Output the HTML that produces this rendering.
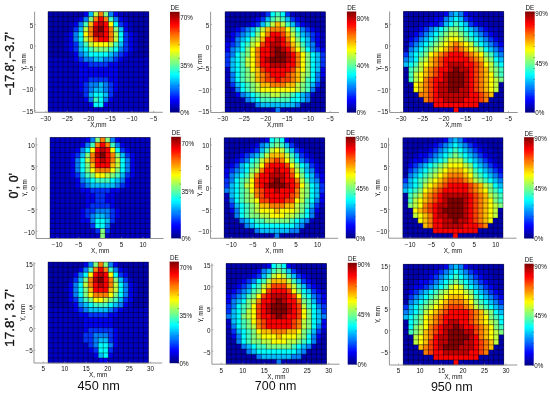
<!DOCTYPE html>
<html><head><meta charset="utf-8"><style>
html,body{margin:0;padding:0;background:#fff;}
svg{display:block;}
</style></head><body>
<svg width="550" height="395" viewBox="0 0 550 395" font-family="Liberation Sans, Arial, sans-serif" fill="#111">
<defs><linearGradient id="jet" x1="0" y1="0" x2="0" y2="1"><stop offset="0" stop-color="#800000"/><stop offset="0.02" stop-color="#8f0000"/><stop offset="0.03" stop-color="#9f0000"/><stop offset="0.05" stop-color="#af0000"/><stop offset="0.06" stop-color="#bf0000"/><stop offset="0.08" stop-color="#cf0000"/><stop offset="0.09" stop-color="#df0000"/><stop offset="0.11" stop-color="#ef0000"/><stop offset="0.12" stop-color="#ff0000"/><stop offset="0.14" stop-color="#ff1000"/><stop offset="0.16" stop-color="#ff2000"/><stop offset="0.17" stop-color="#ff3000"/><stop offset="0.19" stop-color="#ff4000"/><stop offset="0.2" stop-color="#ff5000"/><stop offset="0.22" stop-color="#ff6000"/><stop offset="0.23" stop-color="#ff7000"/><stop offset="0.25" stop-color="#ff8000"/><stop offset="0.27" stop-color="#ff8f00"/><stop offset="0.28" stop-color="#ff9f00"/><stop offset="0.3" stop-color="#ffaf00"/><stop offset="0.31" stop-color="#ffbf00"/><stop offset="0.33" stop-color="#ffcf00"/><stop offset="0.34" stop-color="#ffdf00"/><stop offset="0.36" stop-color="#ffef00"/><stop offset="0.38" stop-color="#ffff00"/><stop offset="0.39" stop-color="#efff10"/><stop offset="0.41" stop-color="#dfff20"/><stop offset="0.42" stop-color="#cfff30"/><stop offset="0.44" stop-color="#bfff40"/><stop offset="0.45" stop-color="#afff50"/><stop offset="0.47" stop-color="#9fff60"/><stop offset="0.48" stop-color="#8fff70"/><stop offset="0.5" stop-color="#80ff80"/><stop offset="0.52" stop-color="#70ff8f"/><stop offset="0.53" stop-color="#60ff9f"/><stop offset="0.55" stop-color="#50ffaf"/><stop offset="0.56" stop-color="#40ffbf"/><stop offset="0.58" stop-color="#30ffcf"/><stop offset="0.59" stop-color="#20ffdf"/><stop offset="0.61" stop-color="#10ffef"/><stop offset="0.62" stop-color="#00ffff"/><stop offset="0.64" stop-color="#00efff"/><stop offset="0.66" stop-color="#00dfff"/><stop offset="0.67" stop-color="#00cfff"/><stop offset="0.69" stop-color="#00bfff"/><stop offset="0.7" stop-color="#00afff"/><stop offset="0.72" stop-color="#009fff"/><stop offset="0.73" stop-color="#008fff"/><stop offset="0.75" stop-color="#0080ff"/><stop offset="0.77" stop-color="#0070ff"/><stop offset="0.78" stop-color="#0060ff"/><stop offset="0.8" stop-color="#0050ff"/><stop offset="0.81" stop-color="#0040ff"/><stop offset="0.83" stop-color="#0030ff"/><stop offset="0.84" stop-color="#0020ff"/><stop offset="0.86" stop-color="#0010ff"/><stop offset="0.88" stop-color="#0000ff"/><stop offset="0.89" stop-color="#0000ef"/><stop offset="0.91" stop-color="#0000df"/><stop offset="0.92" stop-color="#0000cf"/><stop offset="0.94" stop-color="#0000bf"/><stop offset="0.95" stop-color="#0000af"/><stop offset="0.97" stop-color="#00009f"/><stop offset="0.98" stop-color="#00008f"/><stop offset="1" stop-color="#000080"/></linearGradient></defs>
<g><rect x="48" y="11.7" width="100.8" height="100.6" fill="#00006a"/>
<path fill="#0000ad" d="M48 11.7H83.28V16.73H48zM123.6 11.7H148.8V16.73H123.6zM48 16.73H73.2V21.76H48zM128.64 16.73H148.8V21.76H128.64zM48 21.76H68.16V26.79H48zM133.68 21.76H148.8V26.79H133.68zM48 26.79H68.16V31.82H48zM133.68 26.79H148.8V31.82H133.68zM48 31.82H63.12V36.85H48zM138.72 31.82H148.8V36.85H138.72zM48 36.85H63.12V41.88H48zM138.72 36.85H148.8V41.88H138.72zM48 41.88H63.12V46.91H48zM138.72 41.88H148.8V46.91H138.72zM48 46.91H63.12V51.94H48zM138.72 46.91H148.8V51.94H138.72zM48 51.94H68.16V56.97H48zM133.68 51.94H148.8V56.97H133.68z"/>
<path fill="#0000f0" d="M83.28 11.7H88.32V16.73H83.28zM113.52 11.7H118.56V16.73H113.52zM78.24 16.73H83.28V21.76H78.24zM118.56 16.73H123.6V21.76H118.56zM73.2 21.76H78.24V26.79H73.2zM123.6 21.76H128.64V26.79H123.6zM123.6 26.79H128.64V31.82H123.6zM68.16 31.82H73.2V36.85H68.16zM128.64 31.82H133.68V36.85H128.64zM68.16 36.85H73.2V41.88H68.16zM128.64 36.85H133.68V41.88H128.64zM68.16 41.88H73.2V46.91H68.16zM128.64 41.88H133.68V46.91H128.64zM68.16 46.91H73.2V51.94H68.16zM128.64 46.91H133.68V51.94H128.64zM73.2 51.94H78.24V56.97H73.2zM123.6 51.94H128.64V56.97H123.6zM73.2 56.97H78.24V62H73.2zM118.56 56.97H123.6V62H118.56zM78.24 62H88.32V67.03H78.24zM108.48 62H118.56V67.03H108.48zM78.24 67.03H118.56V72.06H78.24zM78.24 72.06H118.56V77.09H78.24zM78.24 77.09H88.32V82.12H78.24zM108.48 77.09H118.56V82.12H108.48zM78.24 82.12H83.28V87.15H78.24zM113.52 82.12H118.56V87.15H113.52zM78.24 87.15H83.28V92.18H78.24zM113.52 87.15H118.56V92.18H113.52zM83.28 97.21H88.32V102.24H83.28zM108.48 97.21H113.52V102.24H108.48zM88.32 102.24H93.36V107.27H88.32zM103.44 102.24H108.48V107.27H103.44z"/>
<path fill="#00bfff" d="M88.32 11.7H93.36V16.73H88.32zM78.24 26.79H83.28V31.82H78.24zM118.56 26.79H123.6V31.82H118.56zM78.24 41.88H83.28V46.91H78.24zM118.56 41.88H123.6V46.91H118.56zM78.24 46.91H83.28V51.94H78.24zM83.28 51.94H88.32V56.97H83.28zM108.48 51.94H113.52V56.97H108.48zM93.36 56.97H103.44V62H93.36zM98.4 82.12H103.44V87.15H98.4zM93.36 87.15H103.44V92.18H93.36zM88.32 92.18H93.36V97.21H88.32zM103.44 92.18H108.48V97.21H103.44z"/>
<path fill="#bfff40" d="M93.36 11.7H98.4V16.73H93.36zM83.28 26.79H88.32V31.82H83.28zM113.52 31.82H118.56V36.85H113.52zM83.28 36.85H88.32V41.88H83.28zM113.52 36.85H118.56V41.88H113.52zM88.32 41.88H93.36V46.91H88.32zM108.48 41.88H113.52V46.91H108.48z"/>
<path fill="#ff8000" d="M98.4 11.7H103.44V16.73H98.4zM93.36 16.73H98.4V21.76H93.36zM103.44 16.73H108.48V21.76H103.44zM88.32 26.79H93.36V31.82H88.32zM108.48 26.79H113.52V31.82H108.48zM88.32 31.82H93.36V36.85H88.32zM108.48 31.82H113.52V36.85H108.48zM108.48 36.85H113.52V41.88H108.48z"/>
<path fill="#80ff80" d="M103.44 11.7H108.48V16.73H103.44zM88.32 16.73H93.36V21.76H88.32zM113.52 26.79H118.56V31.82H113.52zM93.36 46.91H108.48V51.94H93.36z"/>
<path fill="#0080ff" d="M108.48 11.7H113.52V16.73H108.48zM83.28 16.73H88.32V21.76H83.28zM113.52 16.73H118.56V21.76H113.52zM78.24 21.76H83.28V26.79H78.24zM73.2 31.82H78.24V36.85H73.2zM73.2 36.85H78.24V41.88H73.2zM118.56 46.91H123.6V51.94H118.56zM78.24 51.94H83.28V56.97H78.24zM113.52 51.94H118.56V56.97H113.52zM83.28 56.97H93.36V62H83.28zM103.44 56.97H113.52V62H103.44zM88.32 82.12H98.4V87.15H88.32zM103.44 82.12H108.48V87.15H103.44zM88.32 87.15H93.36V92.18H88.32zM103.44 87.15H108.48V92.18H103.44zM88.32 97.21H93.36V102.24H88.32zM103.44 97.21H108.48V102.24H103.44z"/>
<path fill="#0000c4" d="M118.56 11.7H123.6V16.73H118.56zM73.2 16.73H78.24V21.76H73.2zM123.6 16.73H128.64V21.76H123.6zM68.16 21.76H73.2V26.79H68.16zM128.64 21.76H133.68V26.79H128.64zM68.16 26.79H73.2V31.82H68.16zM128.64 26.79H133.68V31.82H128.64zM63.12 31.82H68.16V36.85H63.12zM133.68 31.82H138.72V36.85H133.68zM63.12 36.85H68.16V41.88H63.12zM133.68 36.85H138.72V41.88H133.68zM63.12 41.88H68.16V46.91H63.12zM133.68 41.88H138.72V46.91H133.68zM63.12 46.91H68.16V51.94H63.12zM133.68 46.91H138.72V51.94H133.68zM68.16 51.94H73.2V56.97H68.16zM128.64 51.94H133.68V56.97H128.64zM48 56.97H73.2V62H48zM123.6 56.97H148.8V62H123.6zM48 62H78.24V67.03H48zM118.56 62H148.8V67.03H118.56zM48 67.03H78.24V72.06H48zM118.56 67.03H148.8V72.06H118.56zM48 72.06H78.24V77.09H48zM118.56 72.06H148.8V77.09H118.56zM48 77.09H78.24V82.12H48zM118.56 77.09H148.8V82.12H118.56zM48 82.12H78.24V87.15H48zM118.56 82.12H148.8V87.15H118.56zM48 87.15H78.24V92.18H48zM118.56 87.15H148.8V92.18H118.56zM48 92.18H83.28V97.21H48zM113.52 92.18H148.8V97.21H113.52zM48 97.21H83.28V102.24H48zM113.52 97.21H148.8V102.24H113.52zM48 102.24H88.32V107.27H48zM108.48 102.24H148.8V107.27H108.48zM48 107.27H148.8V112.3H48z"/>
<path fill="#ff0000" d="M98.4 16.73H103.44V21.76H98.4zM93.36 21.76H98.4V26.79H93.36zM103.44 21.76H108.48V26.79H103.44zM103.44 26.79H108.48V31.82H103.44zM103.44 31.82H108.48V36.85H103.44zM98.4 36.85H108.48V41.88H98.4z"/>
<path fill="#40ffbf" d="M108.48 16.73H113.52V21.76H108.48zM83.28 21.76H88.32V26.79H83.28zM83.28 41.88H88.32V46.91H83.28zM113.52 41.88H118.56V46.91H113.52zM88.32 46.91H93.36V51.94H88.32zM108.48 46.91H113.52V51.94H108.48zM93.36 97.21H98.4V102.24H93.36z"/>
<path fill="#ffbf00" d="M88.32 21.76H93.36V26.79H88.32zM88.32 36.85H93.36V41.88H88.32z"/>
<path fill="#bf0000" d="M98.4 21.76H103.44V26.79H98.4zM93.36 26.79H98.4V31.82H93.36zM93.36 31.82H103.44V36.85H93.36z"/>
<path fill="#ffff00" d="M108.48 21.76H113.52V26.79H108.48zM83.28 31.82H88.32V36.85H83.28zM93.36 41.88H108.48V46.91H93.36z"/>
<path fill="#00ffff" d="M113.52 21.76H118.56V26.79H113.52zM78.24 31.82H83.28V36.85H78.24zM118.56 31.82H123.6V36.85H118.56zM78.24 36.85H83.28V41.88H78.24zM118.56 36.85H123.6V41.88H118.56zM83.28 46.91H88.32V51.94H83.28zM113.52 46.91H118.56V51.94H113.52zM88.32 51.94H108.48V56.97H88.32zM93.36 92.18H103.44V97.21H93.36zM98.4 97.21H103.44V102.24H98.4zM93.36 102.24H103.44V107.27H93.36z"/>
<path fill="#0033ff" d="M118.56 21.76H123.6V26.79H118.56zM73.2 26.79H78.24V31.82H73.2zM123.6 31.82H128.64V36.85H123.6zM123.6 36.85H128.64V41.88H123.6zM73.2 41.88H78.24V46.91H73.2zM123.6 41.88H128.64V46.91H123.6zM73.2 46.91H78.24V51.94H73.2zM123.6 46.91H128.64V51.94H123.6zM118.56 51.94H123.6V56.97H118.56zM78.24 56.97H83.28V62H78.24zM113.52 56.97H118.56V62H113.52zM88.32 62H108.48V67.03H88.32zM88.32 77.09H108.48V82.12H88.32zM83.28 82.12H88.32V87.15H83.28zM108.48 82.12H113.52V87.15H108.48zM83.28 87.15H88.32V92.18H83.28zM108.48 87.15H113.52V92.18H108.48zM83.28 92.18H88.32V97.21H83.28zM108.48 92.18H113.52V97.21H108.48z"/>
<path fill="#800000" d="M98.4 26.79H103.44V31.82H98.4z"/>
<path fill="#ff4000" d="M93.36 36.85H98.4V41.88H93.36z"/>
<path d="M48 11.7V112.3M53.04 11.7V112.3M58.08 11.7V112.3M63.12 11.7V112.3M68.16 11.7V112.3M73.2 11.7V112.3M78.24 11.7V112.3M83.28 11.7V112.3M88.32 11.7V112.3M93.36 11.7V112.3M98.4 11.7V112.3M103.44 11.7V112.3M108.48 11.7V112.3M113.52 11.7V112.3M118.56 11.7V112.3M123.6 11.7V112.3M128.64 11.7V112.3M133.68 11.7V112.3M138.72 11.7V112.3M143.76 11.7V112.3M148.8 11.7V112.3M48 11.7H148.8M48 16.73H148.8M48 21.76H148.8M48 26.79H148.8M48 31.82H148.8M48 36.85H148.8M48 41.88H148.8M48 46.91H148.8M48 51.94H148.8M48 56.97H148.8M48 62H148.8M48 67.03H148.8M48 72.06H148.8M48 77.09H148.8M48 82.12H148.8M48 87.15H148.8M48 92.18H148.8M48 97.21H148.8M48 102.24H148.8M48 107.27H148.8M48 112.3H148.8" stroke="#000" stroke-opacity="0.42" stroke-width="0.95" fill="none"/></g>
<path d="M34.6 11.7V112.3H162.8" stroke="#8a8a8a" stroke-width="0.9" fill="none"/>
<text x="45.76" y="120.7" text-anchor="middle" font-size="6.3">−30</text>
<text x="67.33" y="120.7" text-anchor="middle" font-size="6.3">−25</text>
<text x="88.91" y="120.7" text-anchor="middle" font-size="6.3">−20</text>
<text x="110.48" y="120.7" text-anchor="middle" font-size="6.3">−15</text>
<text x="132.06" y="120.7" text-anchor="middle" font-size="6.3">−10</text>
<text x="153.63" y="120.7" text-anchor="middle" font-size="6.3">−5</text>
<text x="33.3" y="27.83" text-anchor="end" font-size="6.3">5</text>
<text x="33.3" y="49.37" text-anchor="end" font-size="6.3">0</text>
<text x="33.3" y="70.9" text-anchor="end" font-size="6.3">−5</text>
<text x="33.3" y="92.43" text-anchor="end" font-size="6.3">−10</text>
<text x="33.3" y="113.96" text-anchor="end" font-size="6.3">−15</text>
<path d="M45.76 112.3v-1.5M67.33 112.3v-1.5M88.91 112.3v-1.5M110.48 112.3v-1.5M132.06 112.3v-1.5M153.63 112.3v-1.5M34.6 24.53h1.5M34.6 46.07h1.5M34.6 67.6h1.5M34.6 89.13h1.5M34.6 110.66h1.5" stroke="#8a8a8a" stroke-width="0.6" fill="none"/>
<text x="98.4" y="126.6" text-anchor="middle" font-size="6.3">X,mm</text>
<text transform="translate(25.6 62) rotate(-90)" text-anchor="middle" font-size="6.3">Y, mm</text>
<rect x="170" y="11.8" width="9.6" height="100.7" fill="url(#jet)"/>
<text x="174.8" y="10.2" text-anchor="middle" font-size="6.3">DE</text>
<text x="180.2" y="20.2" font-size="6.3">70%</text>
<text x="180.2" y="67.7" font-size="6.3">35%</text>
<text x="180.2" y="115.2" font-size="6.3">0%</text>
<path d="M179.6 112.5h-1.2M179.6 98.93h-1.2M179.6 85.36h-1.2M179.6 71.79h-1.2M179.6 58.21h-1.2M179.6 44.64h-1.2M179.6 31.07h-1.2M179.6 17.5h-1.2" stroke="#333" stroke-width="0.5" fill="none"/>
<g><rect x="225.1" y="11.8" width="100.3" height="100.7" fill="#00006a"/>
<path fill="#0000ad" d="M225.1 11.8H260.2V16.84H225.1zM295.31 11.8H325.4V16.84H295.31zM225.1 16.84H250.17V21.87H225.1zM305.34 16.84H325.4V21.87H305.34zM225.1 21.87H245.16V26.91H225.1zM310.35 21.87H325.4V26.91H310.35zM225.1 26.91H230.11V31.94H225.1zM320.38 26.91H325.4V31.94H320.38zM225.1 31.94H230.11V36.98H225.1zM225.1 82.29H230.11V87.33H225.1zM320.38 82.29H325.4V87.33H320.38zM225.1 87.33H230.11V92.36H225.1zM320.38 87.33H325.4V92.36H320.38zM225.1 92.36H235.13V97.39H225.1zM315.37 92.36H325.4V97.39H315.37zM225.1 97.39H245.16V102.43H225.1zM310.35 97.39H325.4V102.43H310.35zM225.1 102.43H255.19V107.47H225.1zM300.32 102.43H325.4V107.47H300.32zM225.1 107.47H275.25V112.5H225.1zM280.26 107.47H325.4V112.5H280.26z"/>
<path fill="#0000c4" d="M260.2 11.8H265.22V16.84H260.2zM290.29 11.8H295.31V16.84H290.29zM250.17 16.84H255.19V21.87H250.17zM300.32 16.84H305.34V21.87H300.32zM245.16 21.87H250.17V26.91H245.16zM305.34 21.87H310.35V26.91H305.34zM230.11 26.91H235.13V31.94H230.11zM315.37 26.91H320.38V31.94H315.37zM320.38 31.94H325.4V36.98H320.38zM225.1 36.98H230.11V42.01H225.1zM320.38 36.98H325.4V42.01H320.38zM320.38 42.01H325.4V47.05H320.38zM225.1 67.19H230.11V72.22H225.1zM225.1 72.22H230.11V77.25H225.1zM225.1 77.25H230.11V82.29H225.1zM320.38 77.25H325.4V82.29H320.38zM230.11 87.33H235.13V92.36H230.11zM315.37 87.33H320.38V92.36H315.37zM310.35 92.36H315.37V97.39H310.35z"/>
<path fill="#0033ff" d="M265.22 11.8H270.24V16.84H265.22zM285.28 11.8H290.29V16.84H285.28zM260.2 16.84H265.22V21.87H260.2zM290.29 16.84H295.31V21.87H290.29zM255.19 21.87H260.2V26.91H255.19zM295.31 21.87H300.32V26.91H295.31zM240.14 26.91H245.16V31.94H240.14zM305.34 26.91H310.35V31.94H305.34zM235.13 31.94H240.14V36.98H235.13zM310.35 31.94H315.37V36.98H310.35zM310.35 36.98H315.37V42.01H310.35zM230.11 42.01H235.13V47.05H230.11zM315.37 47.05H320.38V52.08H315.37zM225.1 52.08H230.11V57.11H225.1zM320.38 52.08H325.4V57.11H320.38zM225.1 57.11H230.11V62.15H225.1zM320.38 57.11H325.4V62.15H320.38zM225.1 62.15H230.11V67.19H225.1zM320.38 62.15H325.4V67.19H320.38zM230.11 82.29H235.13V87.33H230.11zM315.37 82.29H320.38V87.33H315.37z"/>
<path fill="#00ffff" d="M270.24 11.8H275.25V16.84H270.24zM280.26 11.8H285.28V16.84H280.26zM295.31 26.91H300.32V31.94H295.31zM250.17 31.94H255.19V36.98H250.17zM245.16 36.98H250.17V42.01H245.16zM300.32 36.98H305.34V42.01H300.32zM240.14 42.01H245.16V47.05H240.14zM240.14 47.05H245.16V52.08H240.14zM305.34 47.05H310.35V52.08H305.34zM235.13 52.08H240.14V57.11H235.13zM310.35 52.08H315.37V57.11H310.35zM235.13 57.11H240.14V62.15H235.13zM310.35 57.11H315.37V62.15H310.35zM235.13 62.15H240.14V67.19H235.13zM310.35 62.15H315.37V67.19H310.35zM235.13 67.19H240.14V72.22H235.13zM310.35 67.19H315.37V72.22H310.35zM235.13 72.22H240.14V77.25H235.13zM310.35 72.22H315.37V77.25H310.35zM235.13 77.25H240.14V82.29H235.13zM310.35 77.25H315.37V82.29H310.35zM240.14 82.29H245.16V87.33H240.14zM240.14 87.33H245.16V92.36H240.14zM250.17 92.36H255.19V97.39H250.17zM295.31 92.36H300.32V97.39H295.31zM255.19 97.39H260.2V102.43H255.19zM290.29 97.39H300.32V102.43H290.29z"/>
<path fill="#40ffbf" d="M275.25 11.8H280.26V16.84H275.25zM270.24 16.84H275.25V21.87H270.24zM280.26 16.84H285.28V21.87H280.26zM265.22 21.87H270.24V26.91H265.22zM285.28 21.87H290.29V26.91H285.28zM255.19 26.91H260.2V31.94H255.19zM295.31 31.94H300.32V36.98H295.31zM245.16 42.01H250.17V47.05H245.16zM300.32 42.01H305.34V47.05H300.32zM240.14 52.08H245.16V57.11H240.14zM240.14 57.11H245.16V62.15H240.14zM240.14 62.15H245.16V67.19H240.14zM240.14 67.19H245.16V72.22H240.14zM240.14 72.22H245.16V77.25H240.14zM240.14 77.25H245.16V82.29H240.14zM305.34 77.25H310.35V82.29H305.34zM245.16 82.29H250.17V87.33H245.16zM305.34 82.29H310.35V87.33H305.34zM245.16 87.33H250.17V92.36H245.16zM305.34 87.33H310.35V92.36H305.34zM255.19 92.36H260.2V97.39H255.19zM290.29 92.36H295.31V97.39H290.29zM260.2 97.39H290.29V102.43H260.2z"/>
<path fill="#0000f0" d="M255.19 16.84H260.2V21.87H255.19zM295.31 16.84H300.32V21.87H295.31zM250.17 21.87H255.19V26.91H250.17zM300.32 21.87H305.34V26.91H300.32zM235.13 26.91H240.14V31.94H235.13zM310.35 26.91H315.37V31.94H310.35zM230.11 31.94H235.13V36.98H230.11zM315.37 31.94H320.38V36.98H315.37zM230.11 36.98H235.13V42.01H230.11zM315.37 36.98H320.38V42.01H315.37zM225.1 42.01H230.11V47.05H225.1zM315.37 42.01H320.38V47.05H315.37zM225.1 47.05H230.11V52.08H225.1zM320.38 47.05H325.4V52.08H320.38zM320.38 67.19H325.4V72.22H320.38zM320.38 72.22H325.4V77.25H320.38zM235.13 92.36H240.14V97.39H235.13z"/>
<path fill="#00bfff" d="M265.22 16.84H270.24V21.87H265.22zM285.28 16.84H290.29V21.87H285.28zM260.2 21.87H265.22V26.91H260.2zM290.29 21.87H295.31V26.91H290.29zM250.17 26.91H255.19V31.94H250.17zM245.16 31.94H250.17V36.98H245.16zM300.32 31.94H305.34V36.98H300.32zM240.14 36.98H245.16V42.01H240.14zM305.34 36.98H310.35V42.01H305.34zM305.34 42.01H310.35V47.05H305.34zM235.13 47.05H240.14V52.08H235.13zM315.37 52.08H320.38V57.11H315.37zM230.11 57.11H235.13V62.15H230.11zM315.37 57.11H320.38V62.15H315.37zM230.11 62.15H235.13V67.19H230.11zM315.37 62.15H320.38V67.19H315.37zM230.11 67.19H235.13V72.22H230.11zM315.37 67.19H320.38V72.22H315.37zM235.13 82.29H240.14V87.33H235.13zM310.35 82.29H315.37V87.33H310.35zM245.16 92.36H250.17V97.39H245.16zM300.32 92.36H305.34V97.39H300.32zM250.17 97.39H255.19V102.43H250.17zM300.32 97.39H305.34V102.43H300.32zM260.2 102.43H295.31V107.47H260.2z"/>
<path fill="#80ff80" d="M275.25 16.84H280.26V21.87H275.25zM290.29 26.91H295.31V31.94H290.29zM255.19 31.94H260.2V36.98H255.19zM250.17 36.98H255.19V42.01H250.17zM295.31 36.98H300.32V42.01H295.31zM245.16 47.05H250.17V52.08H245.16zM300.32 47.05H305.34V52.08H300.32zM245.16 52.08H250.17V57.11H245.16zM305.34 52.08H310.35V57.11H305.34zM305.34 57.11H310.35V62.15H305.34zM305.34 62.15H310.35V67.19H305.34zM245.16 67.19H250.17V72.22H245.16zM305.34 67.19H310.35V72.22H305.34zM245.16 72.22H250.17V77.25H245.16zM305.34 72.22H310.35V77.25H305.34zM245.16 77.25H250.17V82.29H245.16zM250.17 82.29H255.19V87.33H250.17zM300.32 82.29H305.34V87.33H300.32zM250.17 87.33H255.19V92.36H250.17zM300.32 87.33H305.34V92.36H300.32zM260.2 92.36H270.24V97.39H260.2zM280.26 92.36H290.29V97.39H280.26z"/>
<path fill="#bfff40" d="M270.24 21.87H275.25V26.91H270.24zM280.26 21.87H285.28V26.91H280.26zM260.2 26.91H265.22V31.94H260.2zM290.29 31.94H295.31V36.98H290.29zM255.19 36.98H260.2V42.01H255.19zM250.17 42.01H255.19V47.05H250.17zM295.31 42.01H300.32V47.05H295.31zM245.16 57.11H250.17V62.15H245.16zM245.16 62.15H250.17V67.19H245.16zM250.17 72.22H255.19V77.25H250.17zM300.32 72.22H305.34V77.25H300.32zM250.17 77.25H255.19V82.29H250.17zM300.32 77.25H305.34V82.29H300.32zM255.19 82.29H260.2V87.33H255.19zM295.31 82.29H300.32V87.33H295.31zM255.19 87.33H260.2V92.36H255.19zM295.31 87.33H300.32V92.36H295.31zM270.24 92.36H280.26V97.39H270.24z"/>
<path fill="#ffbf00" d="M275.25 21.87H280.26V26.91H275.25zM265.22 26.91H270.24V31.94H265.22zM285.28 31.94H290.29V36.98H285.28zM260.2 36.98H265.22V42.01H260.2zM290.29 42.01H295.31V47.05H290.29zM255.19 67.19H260.2V72.22H255.19zM295.31 67.19H300.32V72.22H295.31zM255.19 72.22H260.2V77.25H255.19zM295.31 72.22H300.32V77.25H295.31zM255.19 77.25H260.2V82.29H255.19zM295.31 77.25H300.32V82.29H295.31zM260.2 82.29H270.24V87.33H260.2zM285.28 82.29H295.31V87.33H285.28z"/>
<path fill="#0080ff" d="M245.16 26.91H250.17V31.94H245.16zM300.32 26.91H305.34V31.94H300.32zM240.14 31.94H245.16V36.98H240.14zM305.34 31.94H310.35V36.98H305.34zM235.13 36.98H240.14V42.01H235.13zM235.13 42.01H240.14V47.05H235.13zM310.35 42.01H315.37V47.05H310.35zM230.11 47.05H235.13V52.08H230.11zM310.35 47.05H315.37V52.08H310.35zM230.11 52.08H235.13V57.11H230.11zM230.11 72.22H235.13V77.25H230.11zM315.37 72.22H320.38V77.25H315.37zM230.11 77.25H235.13V82.29H230.11zM315.37 77.25H320.38V82.29H315.37zM235.13 87.33H240.14V92.36H235.13zM310.35 87.33H315.37V92.36H310.35zM240.14 92.36H245.16V97.39H240.14zM305.34 92.36H310.35V97.39H305.34zM245.16 97.39H250.17V102.43H245.16zM305.34 97.39H310.35V102.43H305.34zM255.19 102.43H260.2V107.47H255.19zM295.31 102.43H300.32V107.47H295.31zM275.25 107.47H280.26V112.5H275.25z"/>
<path fill="#ff8000" d="M270.24 26.91H285.28V31.94H270.24zM265.22 31.94H270.24V36.98H265.22zM285.28 36.98H290.29V42.01H285.28zM255.19 47.05H260.2V52.08H255.19zM290.29 47.05H295.31V52.08H290.29zM255.19 52.08H260.2V57.11H255.19zM295.31 52.08H300.32V57.11H295.31zM255.19 57.11H260.2V62.15H255.19zM295.31 57.11H300.32V62.15H295.31zM255.19 62.15H260.2V67.19H255.19zM295.31 62.15H300.32V67.19H295.31zM260.2 72.22H265.22V77.25H260.2zM290.29 72.22H295.31V77.25H290.29zM260.2 77.25H265.22V82.29H260.2zM290.29 77.25H295.31V82.29H290.29zM270.24 82.29H285.28V87.33H270.24z"/>
<path fill="#ffff00" d="M285.28 26.91H290.29V31.94H285.28zM260.2 31.94H265.22V36.98H260.2zM290.29 36.98H295.31V42.01H290.29zM255.19 42.01H260.2V47.05H255.19zM250.17 47.05H255.19V52.08H250.17zM295.31 47.05H300.32V52.08H295.31zM250.17 52.08H255.19V57.11H250.17zM300.32 52.08H305.34V57.11H300.32zM250.17 57.11H255.19V62.15H250.17zM300.32 57.11H305.34V62.15H300.32zM250.17 62.15H255.19V67.19H250.17zM300.32 62.15H305.34V67.19H300.32zM250.17 67.19H255.19V72.22H250.17zM300.32 67.19H305.34V72.22H300.32zM260.2 87.33H295.31V92.36H260.2z"/>
<path fill="#ff0000" d="M270.24 31.94H280.26V36.98H270.24zM265.22 36.98H275.25V42.01H265.22zM280.26 36.98H285.28V42.01H280.26zM265.22 42.01H270.24V47.05H265.22zM280.26 42.01H285.28V47.05H280.26zM260.2 47.05H270.24V52.08H260.2zM285.28 47.05H290.29V52.08H285.28zM260.2 52.08H270.24V57.11H260.2zM290.29 52.08H295.31V57.11H290.29zM260.2 57.11H265.22V62.15H260.2zM290.29 57.11H295.31V62.15H290.29zM260.2 62.15H270.24V67.19H260.2zM285.28 62.15H295.31V67.19H285.28zM265.22 67.19H290.29V72.22H265.22zM270.24 72.22H285.28V77.25H270.24zM275.25 77.25H280.26V82.29H275.25z"/>
<path fill="#ff4000" d="M280.26 31.94H285.28V36.98H280.26zM260.2 42.01H265.22V47.05H260.2zM285.28 42.01H290.29V47.05H285.28zM260.2 67.19H265.22V72.22H260.2zM290.29 67.19H295.31V72.22H290.29zM265.22 72.22H270.24V77.25H265.22zM285.28 72.22H290.29V77.25H285.28zM265.22 77.25H275.25V82.29H265.22zM280.26 77.25H290.29V82.29H280.26z"/>
<path fill="#bf0000" d="M275.25 36.98H280.26V42.01H275.25zM270.24 42.01H280.26V47.05H270.24zM270.24 47.05H275.25V52.08H270.24zM280.26 47.05H285.28V52.08H280.26zM270.24 52.08H275.25V57.11H270.24zM285.28 52.08H290.29V57.11H285.28zM265.22 57.11H270.24V62.15H265.22zM285.28 57.11H290.29V62.15H285.28zM270.24 62.15H285.28V67.19H270.24z"/>
<path fill="#800000" d="M275.25 47.05H280.26V52.08H275.25zM275.25 52.08H285.28V57.11H275.25zM270.24 57.11H285.28V62.15H270.24z"/>
<path d="M225.1 11.8V112.5M230.11 11.8V112.5M235.13 11.8V112.5M240.14 11.8V112.5M245.16 11.8V112.5M250.17 11.8V112.5M255.19 11.8V112.5M260.2 11.8V112.5M265.22 11.8V112.5M270.24 11.8V112.5M275.25 11.8V112.5M280.26 11.8V112.5M285.28 11.8V112.5M290.29 11.8V112.5M295.31 11.8V112.5M300.32 11.8V112.5M305.34 11.8V112.5M310.35 11.8V112.5M315.37 11.8V112.5M320.38 11.8V112.5M325.4 11.8V112.5M225.1 11.8H325.4M225.1 16.84H325.4M225.1 21.87H325.4M225.1 26.91H325.4M225.1 31.94H325.4M225.1 36.98H325.4M225.1 42.01H325.4M225.1 47.05H325.4M225.1 52.08H325.4M225.1 57.11H325.4M225.1 62.15H325.4M225.1 67.19H325.4M225.1 72.22H325.4M225.1 77.25H325.4M225.1 82.29H325.4M225.1 87.33H325.4M225.1 92.36H325.4M225.1 97.39H325.4M225.1 102.43H325.4M225.1 107.47H325.4M225.1 112.5H325.4" stroke="#000" stroke-opacity="0.42" stroke-width="0.95" fill="none"/></g>
<path d="M210.6 11.8V112.5H339" stroke="#8a8a8a" stroke-width="0.9" fill="none"/>
<text x="222.87" y="120.9" text-anchor="middle" font-size="6.3">−30</text>
<text x="244.34" y="120.9" text-anchor="middle" font-size="6.3">−25</text>
<text x="265.8" y="120.9" text-anchor="middle" font-size="6.3">−20</text>
<text x="287.27" y="120.9" text-anchor="middle" font-size="6.3">−15</text>
<text x="308.74" y="120.9" text-anchor="middle" font-size="6.3">−10</text>
<text x="330.21" y="120.9" text-anchor="middle" font-size="6.3">−5</text>
<text x="209.3" y="27.95" text-anchor="end" font-size="6.3">5</text>
<text x="209.3" y="49.5" text-anchor="end" font-size="6.3">0</text>
<text x="209.3" y="71.05" text-anchor="end" font-size="6.3">−5</text>
<text x="209.3" y="92.61" text-anchor="end" font-size="6.3">−10</text>
<text x="209.3" y="114.16" text-anchor="end" font-size="6.3">−15</text>
<path d="M222.87 112.5v-1.5M244.34 112.5v-1.5M265.8 112.5v-1.5M287.27 112.5v-1.5M308.74 112.5v-1.5M330.21 112.5v-1.5M210.6 24.65h1.5M210.6 46.2h1.5M210.6 67.75h1.5M210.6 89.31h1.5M210.6 110.86h1.5" stroke="#8a8a8a" stroke-width="0.6" fill="none"/>
<text x="275.25" y="126.8" text-anchor="middle" font-size="6.3">X,mm</text>
<text transform="translate(201.6 62.15) rotate(-90)" text-anchor="middle" font-size="6.3">Y, mm</text>
<rect x="346.9" y="11.5" width="9.3" height="101.1" fill="url(#jet)"/>
<text x="351.55" y="9.9" text-anchor="middle" font-size="6.3">DE</text>
<text x="356.8" y="20.9" font-size="6.3">80%</text>
<text x="356.8" y="68.1" font-size="6.3">40%</text>
<text x="356.8" y="115.3" font-size="6.3">0%</text>
<path d="M356.2 112.6h-1.2M356.2 100.8h-1.2M356.2 89h-1.2M356.2 77.2h-1.2M356.2 65.4h-1.2M356.2 53.6h-1.2M356.2 41.8h-1.2M356.2 30h-1.2M356.2 18.2h-1.2" stroke="#333" stroke-width="0.5" fill="none"/>
<g><rect x="403.5" y="11.5" width="100.2" height="101" fill="#00006a"/>
<path fill="#0000ad" d="M403.5 11.5H433.56V16.55H403.5zM478.65 11.5H503.7V16.55H478.65zM403.5 16.55H423.54V21.6H403.5zM483.66 16.55H503.7V21.6H483.66zM403.5 21.6H418.53V26.65H403.5zM488.67 21.6H503.7V26.65H488.67zM403.5 26.65H408.51V31.7H403.5zM498.69 26.65H503.7V31.7H498.69zM403.5 31.7H408.51V36.75H403.5zM498.69 31.7H503.7V36.75H498.69zM403.5 36.75H408.51V41.8H403.5zM403.5 41.8H408.51V46.85H403.5zM403.5 46.85H408.51V51.9H403.5zM403.5 67.05H408.51V72.1H403.5zM403.5 72.1H408.51V77.15H403.5zM403.5 77.15H408.51V82.2H403.5zM403.5 82.2H413.52V87.25H403.5zM498.69 82.2H503.7V87.25H498.69zM403.5 87.25H413.52V92.3H403.5zM498.69 87.25H503.7V92.3H498.69zM403.5 92.3H418.53V97.35H403.5zM493.68 92.3H503.7V97.35H493.68zM403.5 97.35H423.54V102.4H403.5zM488.67 97.35H503.7V102.4H488.67zM403.5 102.4H433.56V107.45H403.5zM478.65 102.4H503.7V107.45H478.65zM403.5 107.45H453.6V112.5H403.5zM458.61 107.45H503.7V112.5H458.61z"/>
<path fill="#0000c4" d="M433.56 11.5H443.58V16.55H433.56zM468.63 11.5H478.65V16.55H468.63zM423.54 16.55H433.56V21.6H423.54zM473.64 16.55H483.66V21.6H473.64zM418.53 21.6H428.55V26.65H418.53zM478.65 21.6H488.67V26.65H478.65zM408.51 26.65H418.53V31.7H408.51zM488.67 26.65H498.69V31.7H488.67zM408.51 31.7H413.52V36.75H408.51zM493.68 31.7H498.69V36.75H493.68zM498.69 36.75H503.7V41.8H498.69z"/>
<path fill="#0000f0" d="M443.58 11.5H448.59V16.55H443.58zM463.62 11.5H468.63V16.55H463.62zM433.56 16.55H443.58V21.6H433.56zM468.63 16.55H473.64V21.6H468.63zM428.55 21.6H438.57V26.65H428.55zM473.64 21.6H478.65V26.65H473.64zM418.53 26.65H423.54V31.7H418.53zM483.66 26.65H488.67V31.7H483.66zM413.52 31.7H418.53V36.75H413.52zM488.67 31.7H493.68V36.75H488.67zM408.51 36.75H413.52V41.8H408.51zM493.68 36.75H498.69V41.8H493.68zM498.69 41.8H503.7V46.85H498.69z"/>
<path fill="#0080ff" d="M448.59 11.5H453.6V16.55H448.59zM458.61 11.5H463.62V16.55H458.61zM443.58 16.55H448.59V21.6H443.58zM428.55 26.65H433.56V31.7H428.55zM473.64 26.65H478.65V31.7H473.64zM423.54 31.7H428.55V36.75H423.54zM478.65 31.7H483.66V36.75H478.65zM418.53 36.75H423.54V41.8H418.53zM483.66 36.75H488.67V41.8H483.66zM413.52 41.8H418.53V46.85H413.52zM488.67 41.8H493.68V46.85H488.67zM408.51 46.85H413.52V51.9H408.51zM493.68 46.85H498.69V51.9H493.68zM498.69 51.9H503.7V56.95H498.69zM403.5 56.95H408.51V62H403.5z"/>
<path fill="#00bfff" d="M453.6 11.5H458.61V16.55H453.6zM448.59 16.55H453.6V21.6H448.59zM458.61 16.55H463.62V21.6H458.61zM443.58 21.6H448.59V26.65H443.58zM463.62 21.6H468.63V26.65H463.62zM433.56 26.65H438.57V31.7H433.56zM468.63 26.65H473.64V31.7H468.63zM428.55 31.7H433.56V36.75H428.55zM473.64 31.7H478.65V36.75H473.64zM423.54 36.75H428.55V41.8H423.54zM478.65 36.75H483.66V41.8H478.65zM418.53 41.8H423.54V46.85H418.53zM483.66 41.8H488.67V46.85H483.66zM413.52 46.85H418.53V51.9H413.52zM488.67 46.85H493.68V51.9H488.67zM408.51 51.9H413.52V56.95H408.51zM493.68 51.9H498.69V56.95H493.68zM408.51 56.95H413.52V62H408.51zM498.69 56.95H503.7V62H498.69zM403.5 62H408.51V67.05H403.5z"/>
<path fill="#00ffff" d="M453.6 16.55H458.61V21.6H453.6zM448.59 21.6H453.6V26.65H448.59zM458.61 21.6H463.62V26.65H458.61zM438.57 26.65H443.58V31.7H438.57zM463.62 26.65H468.63V31.7H463.62zM433.56 31.7H438.57V36.75H433.56zM468.63 31.7H473.64V36.75H468.63zM428.55 36.75H433.56V41.8H428.55zM473.64 36.75H478.65V41.8H473.64zM423.54 41.8H428.55V46.85H423.54zM478.65 41.8H483.66V46.85H478.65zM418.53 46.85H423.54V51.9H418.53zM483.66 46.85H488.67V51.9H483.66zM413.52 51.9H418.53V56.95H413.52zM413.52 56.95H418.53V62H413.52zM493.68 56.95H498.69V62H493.68zM408.51 62H413.52V67.05H408.51zM498.69 62H503.7V67.05H498.69z"/>
<path fill="#0033ff" d="M463.62 16.55H468.63V21.6H463.62zM438.57 21.6H443.58V26.65H438.57zM468.63 21.6H473.64V26.65H468.63zM423.54 26.65H428.55V31.7H423.54zM478.65 26.65H483.66V31.7H478.65zM418.53 31.7H423.54V36.75H418.53zM483.66 31.7H488.67V36.75H483.66zM413.52 36.75H418.53V41.8H413.52zM488.67 36.75H493.68V41.8H488.67zM408.51 41.8H413.52V46.85H408.51zM493.68 41.8H498.69V46.85H493.68zM498.69 46.85H503.7V51.9H498.69zM403.5 51.9H408.51V56.95H403.5z"/>
<path fill="#40ffbf" d="M453.6 21.6H458.61V26.65H453.6zM443.58 26.65H448.59V31.7H443.58zM458.61 26.65H463.62V31.7H458.61zM438.57 31.7H443.58V36.75H438.57zM463.62 31.7H468.63V36.75H463.62zM433.56 36.75H438.57V41.8H433.56zM468.63 36.75H473.64V41.8H468.63zM428.55 41.8H433.56V46.85H428.55zM473.64 41.8H478.65V46.85H473.64zM423.54 46.85H428.55V51.9H423.54zM418.53 51.9H423.54V56.95H418.53zM488.67 51.9H493.68V56.95H488.67zM413.52 62H418.53V67.05H413.52zM493.68 62H498.69V67.05H493.68zM408.51 67.05H413.52V72.1H408.51zM498.69 67.05H503.7V72.1H498.69zM408.51 72.1H413.52V77.15H408.51zM498.69 72.1H503.7V77.15H498.69zM408.51 77.15H413.52V82.2H408.51z"/>
<path fill="#80ff80" d="M448.59 26.65H458.61V31.7H448.59zM443.58 31.7H448.59V36.75H443.58zM458.61 31.7H463.62V36.75H458.61zM438.57 36.75H443.58V41.8H438.57zM463.62 36.75H468.63V41.8H463.62zM433.56 41.8H438.57V46.85H433.56zM428.55 46.85H433.56V51.9H428.55zM478.65 46.85H483.66V51.9H478.65zM423.54 51.9H428.55V56.95H423.54zM483.66 51.9H488.67V56.95H483.66zM418.53 56.95H423.54V62H418.53zM488.67 56.95H493.68V62H488.67zM413.52 67.05H418.53V72.1H413.52zM493.68 67.05H498.69V72.1H493.68zM493.68 72.1H498.69V77.15H493.68zM498.69 77.15H503.7V82.2H498.69z"/>
<path fill="#bfff40" d="M448.59 31.7H458.61V36.75H448.59zM443.58 36.75H448.59V41.8H443.58zM458.61 36.75H463.62V41.8H458.61zM438.57 41.8H443.58V46.85H438.57zM468.63 41.8H473.64V46.85H468.63zM433.56 46.85H438.57V51.9H433.56zM473.64 46.85H478.65V51.9H473.64zM423.54 56.95H428.55V62H423.54zM483.66 56.95H488.67V62H483.66zM418.53 62H423.54V67.05H418.53zM488.67 62H493.68V67.05H488.67zM418.53 67.05H423.54V72.1H418.53zM488.67 67.05H493.68V72.1H488.67zM413.52 72.1H418.53V77.15H413.52zM413.52 77.15H418.53V82.2H413.52zM493.68 77.15H498.69V82.2H493.68zM493.68 82.2H498.69V87.25H493.68zM493.68 87.25H498.69V92.3H493.68z"/>
<path fill="#ffff00" d="M448.59 36.75H458.61V41.8H448.59zM443.58 41.8H448.59V46.85H443.58zM463.62 41.8H468.63V46.85H463.62zM438.57 46.85H443.58V51.9H438.57zM468.63 46.85H473.64V51.9H468.63zM428.55 51.9H433.56V56.95H428.55zM478.65 51.9H483.66V56.95H478.65zM423.54 62H428.55V67.05H423.54zM483.66 62H488.67V67.05H483.66zM418.53 72.1H423.54V77.15H418.53zM488.67 72.1H493.68V77.15H488.67zM418.53 77.15H423.54V82.2H418.53zM488.67 77.15H493.68V82.2H488.67zM413.52 82.2H418.53V87.25H413.52zM488.67 82.2H493.68V87.25H488.67zM413.52 87.25H418.53V92.3H413.52zM488.67 87.25H493.68V92.3H488.67z"/>
<path fill="#ffbf00" d="M448.59 41.8H453.6V46.85H448.59zM458.61 41.8H463.62V46.85H458.61zM443.58 46.85H448.59V51.9H443.58zM463.62 46.85H468.63V51.9H463.62zM433.56 51.9H438.57V56.95H433.56zM473.64 51.9H478.65V56.95H473.64zM428.55 56.95H433.56V62H428.55zM478.65 56.95H483.66V62H478.65zM428.55 62H433.56V67.05H428.55zM423.54 67.05H428.55V72.1H423.54zM483.66 67.05H488.67V72.1H483.66zM423.54 72.1H428.55V77.15H423.54zM483.66 72.1H488.67V77.15H483.66zM483.66 77.15H488.67V82.2H483.66zM418.53 82.2H423.54V87.25H418.53zM483.66 82.2H488.67V87.25H483.66zM418.53 87.25H423.54V92.3H418.53zM483.66 87.25H488.67V92.3H483.66zM488.67 92.3H493.68V97.35H488.67z"/>
<path fill="#ff8000" d="M453.6 41.8H458.61V46.85H453.6zM448.59 46.85H453.6V51.9H448.59zM458.61 46.85H463.62V51.9H458.61zM438.57 51.9H443.58V56.95H438.57zM468.63 51.9H473.64V56.95H468.63zM433.56 56.95H438.57V62H433.56zM473.64 56.95H478.65V62H473.64zM433.56 62H438.57V67.05H433.56zM478.65 62H483.66V67.05H478.65zM428.55 67.05H433.56V72.1H428.55zM478.65 67.05H483.66V72.1H478.65zM428.55 72.1H433.56V77.15H428.55zM478.65 72.1H483.66V77.15H478.65zM423.54 77.15H428.55V82.2H423.54zM478.65 77.15H483.66V82.2H478.65zM423.54 82.2H428.55V87.25H423.54zM478.65 82.2H483.66V87.25H478.65zM423.54 87.25H428.55V92.3H423.54zM478.65 87.25H483.66V92.3H478.65zM418.53 92.3H428.55V97.35H418.53zM483.66 92.3H488.67V97.35H483.66zM423.54 97.35H428.55V102.4H423.54zM483.66 97.35H488.67V102.4H483.66z"/>
<path fill="#ff4000" d="M453.6 46.85H458.61V51.9H453.6zM443.58 51.9H448.59V56.95H443.58zM463.62 51.9H468.63V56.95H463.62zM438.57 56.95H443.58V62H438.57zM468.63 56.95H473.64V62H468.63zM438.57 62H443.58V67.05H438.57zM473.64 62H478.65V67.05H473.64zM433.56 67.05H438.57V72.1H433.56zM473.64 67.05H478.65V72.1H473.64zM433.56 72.1H438.57V77.15H433.56zM473.64 72.1H478.65V77.15H473.64zM428.55 77.15H433.56V82.2H428.55zM473.64 77.15H478.65V82.2H473.64zM428.55 82.2H433.56V87.25H428.55zM473.64 82.2H478.65V87.25H473.64zM428.55 87.25H433.56V92.3H428.55zM473.64 87.25H478.65V92.3H473.64zM428.55 92.3H433.56V97.35H428.55zM478.65 92.3H483.66V97.35H478.65zM428.55 97.35H433.56V102.4H428.55zM478.65 97.35H483.66V102.4H478.65z"/>
<path fill="#ff0000" d="M448.59 51.9H463.62V56.95H448.59zM443.58 56.95H468.63V62H443.58zM443.58 62H448.59V67.05H443.58zM463.62 62H473.64V67.05H463.62zM438.57 67.05H448.59V72.1H438.57zM468.63 67.05H473.64V72.1H468.63zM438.57 72.1H443.58V77.15H438.57zM468.63 72.1H473.64V77.15H468.63zM433.56 77.15H443.58V82.2H433.56zM468.63 77.15H473.64V82.2H468.63zM433.56 82.2H438.57V87.25H433.56zM468.63 82.2H473.64V87.25H468.63zM433.56 87.25H438.57V92.3H433.56zM468.63 87.25H473.64V92.3H468.63zM433.56 92.3H438.57V97.35H433.56zM468.63 92.3H478.65V97.35H468.63zM433.56 97.35H443.58V102.4H433.56zM463.62 97.35H478.65V102.4H463.62zM433.56 102.4H478.65V107.45H433.56zM453.6 107.45H458.61V112.5H453.6z"/>
<path fill="#bf0000" d="M448.59 62H463.62V67.05H448.59zM448.59 67.05H453.6V72.1H448.59zM458.61 67.05H468.63V72.1H458.61zM443.58 72.1H448.59V77.15H443.58zM463.62 72.1H468.63V77.15H463.62zM443.58 77.15H448.59V82.2H443.58zM463.62 77.15H468.63V82.2H463.62zM438.57 82.2H448.59V87.25H438.57zM463.62 82.2H468.63V87.25H463.62zM438.57 87.25H448.59V92.3H438.57zM458.61 87.25H468.63V92.3H458.61zM438.57 92.3H468.63V97.35H438.57zM443.58 97.35H463.62V102.4H443.58z"/>
<path fill="#800000" d="M453.6 67.05H458.61V72.1H453.6zM448.59 72.1H463.62V77.15H448.59zM448.59 77.15H463.62V82.2H448.59zM448.59 82.2H463.62V87.25H448.59zM448.59 87.25H458.61V92.3H448.59z"/>
<path d="M403.5 11.5V112.5M408.51 11.5V112.5M413.52 11.5V112.5M418.53 11.5V112.5M423.54 11.5V112.5M428.55 11.5V112.5M433.56 11.5V112.5M438.57 11.5V112.5M443.58 11.5V112.5M448.59 11.5V112.5M453.6 11.5V112.5M458.61 11.5V112.5M463.62 11.5V112.5M468.63 11.5V112.5M473.64 11.5V112.5M478.65 11.5V112.5M483.66 11.5V112.5M488.67 11.5V112.5M493.68 11.5V112.5M498.69 11.5V112.5M503.7 11.5V112.5M403.5 11.5H503.7M403.5 16.55H503.7M403.5 21.6H503.7M403.5 26.65H503.7M403.5 31.7H503.7M403.5 36.75H503.7M403.5 41.8H503.7M403.5 46.85H503.7M403.5 51.9H503.7M403.5 56.95H503.7M403.5 62H503.7M403.5 67.05H503.7M403.5 72.1H503.7M403.5 77.15H503.7M403.5 82.2H503.7M403.5 87.25H503.7M403.5 92.3H503.7M403.5 97.35H503.7M403.5 102.4H503.7M403.5 107.45H503.7M403.5 112.5H503.7" stroke="#000" stroke-opacity="0.42" stroke-width="0.95" fill="none"/></g>
<path d="M389.6 11.5V112.5H517.7" stroke="#8a8a8a" stroke-width="0.9" fill="none"/>
<text x="401.27" y="120.9" text-anchor="middle" font-size="6.3">−30</text>
<text x="422.72" y="120.9" text-anchor="middle" font-size="6.3">−25</text>
<text x="444.16" y="120.9" text-anchor="middle" font-size="6.3">−20</text>
<text x="465.61" y="120.9" text-anchor="middle" font-size="6.3">−15</text>
<text x="487.06" y="120.9" text-anchor="middle" font-size="6.3">−10</text>
<text x="508.5" y="120.9" text-anchor="middle" font-size="6.3">−5</text>
<text x="388.3" y="27.68" text-anchor="end" font-size="6.3">5</text>
<text x="388.3" y="49.3" text-anchor="end" font-size="6.3">0</text>
<text x="388.3" y="70.92" text-anchor="end" font-size="6.3">−5</text>
<text x="388.3" y="92.54" text-anchor="end" font-size="6.3">−10</text>
<text x="388.3" y="114.16" text-anchor="end" font-size="6.3">−15</text>
<path d="M401.27 112.5v-1.5M422.72 112.5v-1.5M444.16 112.5v-1.5M465.61 112.5v-1.5M487.06 112.5v-1.5M508.5 112.5v-1.5M389.6 24.38h1.5M389.6 46h1.5M389.6 67.62h1.5M389.6 89.24h1.5M389.6 110.86h1.5" stroke="#8a8a8a" stroke-width="0.6" fill="none"/>
<text x="453.6" y="126.8" text-anchor="middle" font-size="6.3">X,mm</text>
<text transform="translate(380.6 62) rotate(-90)" text-anchor="middle" font-size="6.3">Y, mm</text>
<rect x="525.1" y="11.5" width="9.6" height="101.1" fill="url(#jet)"/>
<text x="529.9" y="9.9" text-anchor="middle" font-size="6.3">DE</text>
<text x="535.3" y="16.1" font-size="6.3">90%</text>
<text x="535.3" y="65.7" font-size="6.3">45%</text>
<text x="535.3" y="115.3" font-size="6.3">0%</text>
<path d="M534.7 112.6h-1.2M534.7 101.58h-1.2M534.7 90.56h-1.2M534.7 79.53h-1.2M534.7 68.51h-1.2M534.7 57.49h-1.2M534.7 46.47h-1.2M534.7 35.44h-1.2M534.7 24.42h-1.2M534.7 13.4h-1.2" stroke="#333" stroke-width="0.5" fill="none"/>
<g><rect x="50" y="137.5" width="100.2" height="101" fill="#00006a"/>
<path fill="#0000c4" d="M50 137.5H85.07V142.55H50zM120.14 137.5H150.2V142.55H120.14zM50 142.55H80.06V147.6H50zM125.15 142.55H150.2V147.6H125.15zM50 147.6H75.05V152.65H50zM130.16 147.6H150.2V152.65H130.16zM50 152.65H70.04V157.7H50zM135.17 152.65H150.2V157.7H135.17zM50 157.7H70.04V162.75H50zM135.17 157.7H150.2V162.75H135.17zM50 162.75H70.04V167.8H50zM135.17 162.75H150.2V167.8H135.17zM50 167.8H70.04V172.85H50zM135.17 167.8H150.2V172.85H135.17zM50 172.85H70.04V177.9H50zM135.17 172.85H150.2V177.9H135.17zM50 177.9H75.05V182.95H50zM130.16 177.9H150.2V182.95H130.16zM50 182.95H75.05V188H50zM130.16 182.95H150.2V188H130.16zM50 188H80.06V193.05H50zM120.14 188H150.2V193.05H120.14zM50 193.05H85.07V198.1H50zM115.13 193.05H150.2V198.1H115.13zM50 198.1H85.07V203.15H50zM115.13 198.1H150.2V203.15H115.13zM50 203.15H85.07V208.2H50zM115.13 203.15H150.2V208.2H115.13zM50 208.2H80.06V213.25H50zM120.14 208.2H150.2V213.25H120.14zM50 213.25H80.06V218.3H50zM120.14 213.25H150.2V218.3H120.14zM50 218.3H80.06V223.35H50zM115.13 218.3H150.2V223.35H115.13zM50 223.35H90.08V228.4H50zM110.12 223.35H150.2V228.4H110.12zM50 228.4H95.09V233.45H50zM110.12 228.4H150.2V233.45H110.12zM50 233.45H100.1V238.5H50zM105.11 233.45H150.2V238.5H105.11z"/>
<path fill="#0000f0" d="M85.07 137.5H90.08V142.55H85.07zM115.13 137.5H120.14V142.55H115.13zM80.06 142.55H85.07V147.6H80.06zM120.14 142.55H125.15V147.6H120.14zM75.05 147.6H80.06V152.65H75.05zM125.15 147.6H130.16V152.65H125.15zM70.04 152.65H75.05V157.7H70.04zM130.16 152.65H135.17V157.7H130.16zM70.04 157.7H75.05V162.75H70.04zM130.16 157.7H135.17V162.75H130.16zM70.04 162.75H75.05V167.8H70.04zM130.16 162.75H135.17V167.8H130.16zM70.04 167.8H75.05V172.85H70.04zM130.16 167.8H135.17V172.85H130.16zM70.04 172.85H75.05V177.9H70.04zM130.16 172.85H135.17V177.9H130.16zM75.05 177.9H80.06V182.95H75.05zM125.15 177.9H130.16V182.95H125.15zM75.05 182.95H80.06V188H75.05zM125.15 182.95H130.16V188H125.15zM80.06 188H90.08V193.05H80.06zM110.12 188H120.14V193.05H110.12zM85.07 193.05H95.09V198.1H85.07zM105.11 193.05H115.13V198.1H105.11zM85.07 198.1H95.09V203.15H85.07zM105.11 198.1H115.13V203.15H105.11zM85.07 203.15H90.08V208.2H85.07zM110.12 203.15H115.13V208.2H110.12zM80.06 208.2H85.07V213.25H80.06zM115.13 208.2H120.14V213.25H115.13zM80.06 213.25H85.07V218.3H80.06zM115.13 213.25H120.14V218.3H115.13zM80.06 218.3H90.08V223.35H80.06z"/>
<path fill="#0080ff" d="M90.08 137.5H95.09V142.55H90.08zM110.12 137.5H115.13V142.55H110.12zM85.07 142.55H90.08V147.6H85.07zM115.13 142.55H120.14V147.6H115.13zM80.06 147.6H85.07V152.65H80.06zM75.05 157.7H80.06V162.75H75.05zM125.15 157.7H130.16V162.75H125.15zM75.05 162.75H80.06V167.8H75.05zM125.15 162.75H130.16V167.8H125.15zM75.05 167.8H80.06V172.85H75.05zM125.15 167.8H130.16V172.85H125.15zM80.06 177.9H85.07V182.95H80.06zM120.14 177.9H125.15V182.95H120.14zM85.07 182.95H90.08V188H85.07zM115.13 182.95H120.14V188H115.13zM95.09 208.2H110.12V213.25H95.09zM90.08 213.25H95.09V218.3H90.08zM105.11 213.25H110.12V218.3H105.11zM90.08 218.3H95.09V223.35H90.08zM105.11 223.35H110.12V228.4H105.11z"/>
<path fill="#80ff80" d="M95.09 137.5H100.1V142.55H95.09zM105.11 137.5H110.12V142.55H105.11zM85.07 152.65H90.08V157.7H85.07zM115.13 152.65H120.14V157.7H115.13zM85.07 162.75H90.08V167.8H85.07zM85.07 167.8H90.08V172.85H85.07zM115.13 167.8H120.14V172.85H115.13zM90.08 172.85H95.09V177.9H90.08zM110.12 172.85H115.13V177.9H110.12zM100.1 228.4H105.11V233.45H100.1zM100.1 233.45H105.11V238.5H100.1z"/>
<path fill="#ff8000" d="M100.1 137.5H105.11V142.55H100.1zM95.09 142.55H100.1V147.6H95.09zM105.11 142.55H110.12V147.6H105.11zM90.08 152.65H95.09V157.7H90.08zM110.12 152.65H115.13V157.7H110.12zM90.08 157.7H95.09V162.75H90.08zM110.12 157.7H115.13V162.75H110.12zM95.09 167.8H110.12V172.85H95.09z"/>
<path fill="#40ffbf" d="M90.08 142.55H95.09V147.6H90.08zM110.12 142.55H115.13V147.6H110.12zM85.07 172.85H90.08V177.9H85.07zM115.13 172.85H120.14V177.9H115.13zM95.09 177.9H110.12V182.95H95.09z"/>
<path fill="#ff0000" d="M100.1 142.55H105.11V147.6H100.1zM95.09 147.6H100.1V152.65H95.09zM105.11 147.6H110.12V152.65H105.11zM105.11 152.65H110.12V157.7H105.11zM95.09 157.7H100.1V162.75H95.09zM105.11 157.7H110.12V162.75H105.11zM95.09 162.75H110.12V167.8H95.09z"/>
<path fill="#00ffff" d="M85.07 147.6H90.08V152.65H85.07zM115.13 147.6H120.14V152.65H115.13zM80.06 157.7H85.07V162.75H80.06zM120.14 157.7H125.15V162.75H120.14zM80.06 162.75H85.07V167.8H80.06zM120.14 162.75H125.15V167.8H120.14zM80.06 167.8H85.07V172.85H80.06zM120.14 167.8H125.15V172.85H120.14zM90.08 177.9H95.09V182.95H90.08zM110.12 177.9H115.13V182.95H110.12zM95.09 218.3H105.11V223.35H95.09zM95.09 223.35H105.11V228.4H95.09z"/>
<path fill="#ffff00" d="M90.08 147.6H95.09V152.65H90.08zM110.12 147.6H115.13V152.65H110.12zM90.08 167.8H95.09V172.85H90.08zM110.12 167.8H115.13V172.85H110.12zM95.09 172.85H105.11V177.9H95.09z"/>
<path fill="#bf0000" d="M100.1 147.6H105.11V152.65H100.1zM95.09 152.65H100.1V157.7H95.09zM100.1 157.7H105.11V162.75H100.1z"/>
<path fill="#0033ff" d="M120.14 147.6H125.15V152.65H120.14zM75.05 152.65H80.06V157.7H75.05zM125.15 152.65H130.16V157.7H125.15zM75.05 172.85H80.06V177.9H75.05zM125.15 172.85H130.16V177.9H125.15zM80.06 182.95H85.07V188H80.06zM120.14 182.95H125.15V188H120.14zM90.08 188H110.12V193.05H90.08zM95.09 193.05H105.11V198.1H95.09zM95.09 198.1H105.11V203.15H95.09zM90.08 203.15H110.12V208.2H90.08zM85.07 208.2H95.09V213.25H85.07zM110.12 208.2H115.13V213.25H110.12zM85.07 213.25H90.08V218.3H85.07zM110.12 213.25H115.13V218.3H110.12zM110.12 218.3H115.13V223.35H110.12zM90.08 223.35H95.09V228.4H90.08zM95.09 228.4H100.1V233.45H95.09zM105.11 228.4H110.12V233.45H105.11z"/>
<path fill="#00bfff" d="M80.06 152.65H85.07V157.7H80.06zM120.14 152.65H125.15V157.7H120.14zM80.06 172.85H85.07V177.9H80.06zM120.14 172.85H125.15V177.9H120.14zM85.07 177.9H90.08V182.95H85.07zM115.13 177.9H120.14V182.95H115.13zM90.08 182.95H115.13V188H90.08zM95.09 213.25H105.11V218.3H95.09zM105.11 218.3H110.12V223.35H105.11z"/>
<path fill="#800000" d="M100.1 152.65H105.11V157.7H100.1z"/>
<path fill="#bfff40" d="M85.07 157.7H90.08V162.75H85.07zM115.13 157.7H120.14V162.75H115.13zM115.13 162.75H120.14V167.8H115.13zM105.11 172.85H110.12V177.9H105.11z"/>
<path fill="#ffbf00" d="M90.08 162.75H95.09V167.8H90.08zM110.12 162.75H115.13V167.8H110.12z"/>
<path d="M50 137.5V238.5M55.01 137.5V238.5M60.02 137.5V238.5M65.03 137.5V238.5M70.04 137.5V238.5M75.05 137.5V238.5M80.06 137.5V238.5M85.07 137.5V238.5M90.08 137.5V238.5M95.09 137.5V238.5M100.1 137.5V238.5M105.11 137.5V238.5M110.12 137.5V238.5M115.13 137.5V238.5M120.14 137.5V238.5M125.15 137.5V238.5M130.16 137.5V238.5M135.17 137.5V238.5M140.18 137.5V238.5M145.19 137.5V238.5M150.2 137.5V238.5M50 137.5H150.2M50 142.55H150.2M50 147.6H150.2M50 152.65H150.2M50 157.7H150.2M50 162.75H150.2M50 167.8H150.2M50 172.85H150.2M50 177.9H150.2M50 182.95H150.2M50 188H150.2M50 193.05H150.2M50 198.1H150.2M50 203.15H150.2M50 208.2H150.2M50 213.25H150.2M50 218.3H150.2M50 223.35H150.2M50 228.4H150.2M50 233.45H150.2M50 238.5H150.2" stroke="#000" stroke-opacity="0.42" stroke-width="0.95" fill="none"/></g>
<path d="M36.1 137.5V238.5H163.6" stroke="#8a8a8a" stroke-width="0.9" fill="none"/>
<text x="57.21" y="246.9" text-anchor="middle" font-size="6.3">−10</text>
<text x="78.65" y="246.9" text-anchor="middle" font-size="6.3">−5</text>
<text x="100.1" y="246.9" text-anchor="middle" font-size="6.3">0</text>
<text x="121.55" y="246.9" text-anchor="middle" font-size="6.3">5</text>
<text x="142.99" y="246.9" text-anchor="middle" font-size="6.3">10</text>
<text x="34.8" y="148.06" text-anchor="end" font-size="6.3">10</text>
<text x="34.8" y="169.68" text-anchor="end" font-size="6.3">5</text>
<text x="34.8" y="191.3" text-anchor="end" font-size="6.3">0</text>
<text x="34.8" y="212.92" text-anchor="end" font-size="6.3">−5</text>
<text x="34.8" y="234.54" text-anchor="end" font-size="6.3">−10</text>
<path d="M57.21 238.5v-1.5M78.65 238.5v-1.5M100.1 238.5v-1.5M121.55 238.5v-1.5M142.99 238.5v-1.5M36.1 144.76h1.5M36.1 166.38h1.5M36.1 188h1.5M36.1 209.62h1.5M36.1 231.24h1.5" stroke="#8a8a8a" stroke-width="0.6" fill="none"/>
<text x="100.1" y="252.8" text-anchor="middle" font-size="6.3">X, mm</text>
<text transform="translate(27.1 188) rotate(-90)" text-anchor="middle" font-size="6.3">Y, mm</text>
<rect x="171.2" y="136.8" width="9.6" height="101.6" fill="url(#jet)"/>
<text x="176" y="135.2" text-anchor="middle" font-size="6.3">DE</text>
<text x="181.4" y="145.9" font-size="6.3">70%</text>
<text x="181.4" y="193.5" font-size="6.3">35%</text>
<text x="181.4" y="241.1" font-size="6.3">0%</text>
<path d="M180.8 238.4h-1.2M180.8 224.8h-1.2M180.8 211.2h-1.2M180.8 197.6h-1.2M180.8 184h-1.2M180.8 170.4h-1.2M180.8 156.8h-1.2M180.8 143.2h-1.2" stroke="#333" stroke-width="0.5" fill="none"/>
<g><rect x="224.2" y="137.8" width="100.5" height="100.5" fill="#00006a"/>
<path fill="#0000ad" d="M224.2 137.8H259.38V142.83H224.2zM294.55 137.8H324.7V142.83H294.55zM224.2 142.83H249.32V147.85H224.2zM299.57 142.83H324.7V147.85H299.57zM224.2 147.85H239.27V152.88H224.2zM309.62 147.85H324.7V152.88H309.62zM224.2 152.88H234.25V157.9H224.2zM314.65 152.88H324.7V157.9H314.65zM224.2 157.9H229.22V162.93H224.2zM319.68 157.9H324.7V162.93H319.68zM224.2 203.12H229.22V208.15H224.2zM224.2 208.15H229.22V213.18H224.2zM319.68 208.15H324.7V213.18H319.68zM224.2 213.18H234.25V218.2H224.2zM319.68 213.18H324.7V218.2H319.68zM224.2 218.2H239.27V223.23H224.2zM314.65 218.2H324.7V223.23H314.65zM224.2 223.23H244.3V228.25H224.2zM304.6 223.23H324.7V228.25H304.6zM224.2 228.25H254.35V233.28H224.2zM299.57 228.25H324.7V233.28H299.57zM224.2 233.28H274.45V238.3H224.2zM279.48 233.28H324.7V238.3H279.48z"/>
<path fill="#0000c4" d="M259.38 137.8H264.4V142.83H259.38zM289.52 137.8H294.55V142.83H289.52zM249.32 142.83H254.35V147.85H249.32zM294.55 142.83H299.57V147.85H294.55zM239.27 147.85H249.32V152.88H239.27zM304.6 147.85H309.62V152.88H304.6zM234.25 152.88H239.27V157.9H234.25zM309.62 152.88H314.65V157.9H309.62zM229.22 157.9H234.25V162.93H229.22zM314.65 157.9H319.68V162.93H314.65zM224.2 162.93H229.22V167.95H224.2zM319.68 162.93H324.7V167.95H319.68zM319.68 167.95H324.7V172.98H319.68zM224.2 193.08H229.22V198.1H224.2zM224.2 198.1H229.22V203.12H224.2zM319.68 203.12H324.7V208.15H319.68zM314.65 213.18H319.68V218.2H314.65zM309.62 218.2H314.65V223.23H309.62z"/>
<path fill="#0000f0" d="M264.4 137.8H269.43V142.83H264.4zM284.5 137.8H289.52V142.83H284.5zM254.35 142.83H259.38V147.85H254.35zM249.32 147.85H254.35V152.88H249.32zM299.57 147.85H304.6V152.88H299.57zM239.27 152.88H244.3V157.9H239.27zM304.6 152.88H309.62V157.9H304.6zM234.25 157.9H239.27V162.93H234.25zM309.62 157.9H314.65V162.93H309.62zM229.22 162.93H234.25V167.95H229.22zM314.65 162.93H319.68V167.95H314.65zM224.2 167.95H229.22V172.98H224.2zM314.65 167.95H319.68V172.98H314.65zM224.2 172.98H229.22V178H224.2zM319.68 172.98H324.7V178H319.68zM319.68 178H324.7V183.03H319.68zM319.68 193.08H324.7V198.1H319.68zM319.68 198.1H324.7V203.12H319.68zM229.22 208.15H234.25V213.18H229.22zM314.65 208.15H319.68V213.18H314.65z"/>
<path fill="#00ffff" d="M269.43 137.8H274.45V142.83H269.43zM279.48 137.8H284.5V142.83H279.48zM249.32 157.9H254.35V162.93H249.32zM294.55 157.9H299.57V162.93H294.55zM244.3 162.93H249.32V167.95H244.3zM299.57 162.93H304.6V167.95H299.57zM244.3 167.95H249.32V172.98H244.3zM239.27 172.98H244.3V178H239.27zM304.6 172.98H309.62V178H304.6zM234.25 178H239.27V183.03H234.25zM234.25 183.03H239.27V188.05H234.25zM309.62 183.03H314.65V188.05H309.62zM234.25 188.05H239.27V193.08H234.25zM309.62 188.05H314.65V193.08H309.62zM234.25 193.08H239.27V198.1H234.25zM309.62 193.08H314.65V198.1H309.62zM234.25 198.1H239.27V203.12H234.25zM309.62 198.1H314.65V203.12H309.62zM239.27 203.12H244.3V208.15H239.27zM239.27 208.15H244.3V213.18H239.27zM304.6 208.15H309.62V213.18H304.6zM239.27 213.18H244.3V218.2H239.27zM304.6 213.18H309.62V218.2H304.6zM249.32 218.2H254.35V223.23H249.32zM294.55 218.2H299.57V223.23H294.55zM254.35 223.23H294.55V228.25H254.35z"/>
<path fill="#40ffbf" d="M274.45 137.8H279.48V142.83H274.45zM269.43 142.83H274.45V147.85H269.43zM279.48 142.83H284.5V147.85H279.48zM264.4 147.85H269.43V152.88H264.4zM284.5 147.85H289.52V152.88H284.5zM259.38 152.88H264.4V157.9H259.38zM289.52 152.88H294.55V157.9H289.52zM254.35 157.9H259.38V162.93H254.35zM249.32 162.93H254.35V167.95H249.32zM299.57 167.95H304.6V172.98H299.57zM244.3 172.98H249.32V178H244.3zM239.27 178H244.3V183.03H239.27zM304.6 178H309.62V183.03H304.6zM239.27 183.03H244.3V188.05H239.27zM239.27 188.05H244.3V193.08H239.27zM239.27 193.08H244.3V198.1H239.27zM239.27 198.1H244.3V203.12H239.27zM304.6 198.1H309.62V203.12H304.6zM244.3 203.12H249.32V208.15H244.3zM304.6 203.12H309.62V208.15H304.6zM244.3 208.15H249.32V213.18H244.3zM244.3 213.18H249.32V218.2H244.3zM299.57 213.18H304.6V218.2H299.57zM254.35 218.2H264.4V223.23H254.35zM289.52 218.2H294.55V223.23H289.52z"/>
<path fill="#0080ff" d="M259.38 142.83H264.4V147.85H259.38zM249.32 152.88H254.35V157.9H249.32zM244.3 157.9H249.32V162.93H244.3zM299.57 157.9H304.6V162.93H299.57zM234.25 167.95H239.27V172.98H234.25zM309.62 167.95H314.65V172.98H309.62zM229.22 172.98H234.25V178H229.22zM229.22 178H234.25V183.03H229.22zM314.65 178H319.68V183.03H314.65zM224.2 188.05H229.22V193.08H224.2zM229.22 198.1H234.25V203.12H229.22zM314.65 198.1H319.68V203.12H314.65zM234.25 208.15H239.27V213.18H234.25zM309.62 208.15H314.65V213.18H309.62zM234.25 213.18H239.27V218.2H234.25zM309.62 213.18H314.65V218.2H309.62zM239.27 218.2H244.3V223.23H239.27zM304.6 218.2H309.62V223.23H304.6zM244.3 223.23H249.32V228.25H244.3zM299.57 223.23H304.6V228.25H299.57zM254.35 228.25H259.38V233.28H254.35zM289.52 228.25H299.57V233.28H289.52zM274.45 233.28H279.48V238.3H274.45z"/>
<path fill="#00bfff" d="M264.4 142.83H269.43V147.85H264.4zM284.5 142.83H289.52V147.85H284.5zM259.38 147.85H264.4V152.88H259.38zM289.52 147.85H294.55V152.88H289.52zM254.35 152.88H259.38V157.9H254.35zM294.55 152.88H299.57V157.9H294.55zM239.27 162.93H244.3V167.95H239.27zM304.6 162.93H309.62V167.95H304.6zM239.27 167.95H244.3V172.98H239.27zM304.6 167.95H309.62V172.98H304.6zM234.25 172.98H239.27V178H234.25zM309.62 172.98H314.65V178H309.62zM309.62 178H314.65V183.03H309.62zM229.22 183.03H234.25V188.05H229.22zM314.65 183.03H319.68V188.05H314.65zM229.22 188.05H234.25V193.08H229.22zM314.65 188.05H319.68V193.08H314.65zM229.22 193.08H234.25V198.1H229.22zM314.65 193.08H319.68V198.1H314.65zM234.25 203.12H239.27V208.15H234.25zM309.62 203.12H314.65V208.15H309.62zM244.3 218.2H249.32V223.23H244.3zM299.57 218.2H304.6V223.23H299.57zM249.32 223.23H254.35V228.25H249.32zM294.55 223.23H299.57V228.25H294.55zM259.38 228.25H289.52V233.28H259.38z"/>
<path fill="#80ff80" d="M274.45 142.83H279.48V147.85H274.45zM289.52 157.9H294.55V162.93H289.52zM254.35 162.93H259.38V167.95H254.35zM294.55 162.93H299.57V167.95H294.55zM249.32 167.95H254.35V172.98H249.32zM299.57 172.98H304.6V178H299.57zM244.3 178H249.32V183.03H244.3zM304.6 183.03H309.62V188.05H304.6zM244.3 188.05H249.32V193.08H244.3zM304.6 188.05H309.62V193.08H304.6zM244.3 193.08H249.32V198.1H244.3zM304.6 193.08H309.62V198.1H304.6zM244.3 198.1H249.32V203.12H244.3zM249.32 203.12H254.35V208.15H249.32zM299.57 203.12H304.6V208.15H299.57zM249.32 208.15H254.35V213.18H249.32zM299.57 208.15H304.6V213.18H299.57zM249.32 213.18H259.38V218.2H249.32zM294.55 213.18H299.57V218.2H294.55zM264.4 218.2H289.52V223.23H264.4z"/>
<path fill="#0033ff" d="M289.52 142.83H294.55V147.85H289.52zM254.35 147.85H259.38V152.88H254.35zM294.55 147.85H299.57V152.88H294.55zM244.3 152.88H249.32V157.9H244.3zM299.57 152.88H304.6V157.9H299.57zM239.27 157.9H244.3V162.93H239.27zM304.6 157.9H309.62V162.93H304.6zM234.25 162.93H239.27V167.95H234.25zM309.62 162.93H314.65V167.95H309.62zM229.22 167.95H234.25V172.98H229.22zM314.65 172.98H319.68V178H314.65zM224.2 178H229.22V183.03H224.2zM224.2 183.03H229.22V188.05H224.2zM319.68 183.03H324.7V188.05H319.68zM319.68 188.05H324.7V193.08H319.68zM229.22 203.12H234.25V208.15H229.22zM314.65 203.12H319.68V208.15H314.65z"/>
<path fill="#bfff40" d="M269.43 147.85H274.45V152.88H269.43zM279.48 147.85H284.5V152.88H279.48zM264.4 152.88H269.43V157.9H264.4zM284.5 152.88H289.52V157.9H284.5zM259.38 157.9H264.4V162.93H259.38zM254.35 167.95H259.38V172.98H254.35zM294.55 167.95H299.57V172.98H294.55zM249.32 172.98H254.35V178H249.32zM299.57 178H304.6V183.03H299.57zM244.3 183.03H249.32V188.05H244.3zM299.57 188.05H304.6V193.08H299.57zM249.32 193.08H254.35V198.1H249.32zM299.57 193.08H304.6V198.1H299.57zM249.32 198.1H254.35V203.12H249.32zM299.57 198.1H304.6V203.12H299.57zM254.35 203.12H259.38V208.15H254.35zM294.55 203.12H299.57V208.15H294.55zM254.35 208.15H259.38V213.18H254.35zM294.55 208.15H299.57V213.18H294.55zM259.38 213.18H269.43V218.2H259.38zM284.5 213.18H294.55V218.2H284.5z"/>
<path fill="#ffff00" d="M274.45 147.85H279.48V152.88H274.45zM284.5 157.9H289.52V162.93H284.5zM259.38 162.93H264.4V167.95H259.38zM289.52 162.93H294.55V167.95H289.52zM294.55 172.98H299.57V178H294.55zM249.32 178H254.35V183.03H249.32zM249.32 183.03H254.35V188.05H249.32zM299.57 183.03H304.6V188.05H299.57zM249.32 188.05H254.35V193.08H249.32zM254.35 198.1H259.38V203.12H254.35zM294.55 198.1H299.57V203.12H294.55zM259.38 208.15H274.45V213.18H259.38zM279.48 208.15H294.55V213.18H279.48zM269.43 213.18H284.5V218.2H269.43z"/>
<path fill="#ffbf00" d="M269.43 152.88H284.5V157.9H269.43zM264.4 157.9H269.43V162.93H264.4zM259.38 203.12H269.43V208.15H259.38zM284.5 203.12H294.55V208.15H284.5zM274.45 208.15H279.48V213.18H274.45z"/>
<path fill="#ff8000" d="M269.43 157.9H274.45V162.93H269.43zM279.48 157.9H284.5V162.93H279.48zM259.38 167.95H264.4V172.98H259.38zM289.52 167.95H294.55V172.98H289.52zM254.35 172.98H259.38V178H254.35zM294.55 178H299.57V183.03H294.55zM254.35 188.05H259.38V193.08H254.35zM294.55 188.05H299.57V193.08H294.55zM254.35 193.08H259.38V198.1H254.35zM294.55 193.08H299.57V198.1H294.55zM269.43 203.12H284.5V208.15H269.43z"/>
<path fill="#ff4000" d="M274.45 157.9H279.48V162.93H274.45zM264.4 162.93H269.43V167.95H264.4zM284.5 162.93H289.52V167.95H284.5zM289.52 172.98H294.55V178H289.52zM254.35 178H259.38V183.03H254.35zM254.35 183.03H259.38V188.05H254.35zM294.55 183.03H299.57V188.05H294.55zM259.38 188.05H264.4V193.08H259.38zM259.38 193.08H264.4V198.1H259.38zM289.52 193.08H294.55V198.1H289.52zM259.38 198.1H269.43V203.12H259.38zM284.5 198.1H294.55V203.12H284.5z"/>
<path fill="#ff0000" d="M269.43 162.93H284.5V167.95H269.43zM264.4 167.95H274.45V172.98H264.4zM279.48 167.95H289.52V172.98H279.48zM259.38 172.98H269.43V178H259.38zM284.5 172.98H289.52V178H284.5zM259.38 178H269.43V183.03H259.38zM284.5 178H294.55V183.03H284.5zM259.38 183.03H264.4V188.05H259.38zM289.52 183.03H294.55V188.05H289.52zM264.4 188.05H274.45V193.08H264.4zM279.48 188.05H294.55V193.08H279.48zM264.4 193.08H289.52V198.1H264.4zM269.43 198.1H284.5V203.12H269.43z"/>
<path fill="#bf0000" d="M274.45 167.95H279.48V172.98H274.45zM269.43 172.98H284.5V178H269.43zM269.43 178H274.45V183.03H269.43zM279.48 178H284.5V183.03H279.48zM264.4 183.03H269.43V188.05H264.4zM284.5 183.03H289.52V188.05H284.5zM274.45 188.05H279.48V193.08H274.45z"/>
<path fill="#800000" d="M274.45 178H279.48V183.03H274.45zM269.43 183.03H284.5V188.05H269.43z"/>
<path d="M224.2 137.8V238.3M229.22 137.8V238.3M234.25 137.8V238.3M239.27 137.8V238.3M244.3 137.8V238.3M249.32 137.8V238.3M254.35 137.8V238.3M259.38 137.8V238.3M264.4 137.8V238.3M269.43 137.8V238.3M274.45 137.8V238.3M279.48 137.8V238.3M284.5 137.8V238.3M289.52 137.8V238.3M294.55 137.8V238.3M299.57 137.8V238.3M304.6 137.8V238.3M309.62 137.8V238.3M314.65 137.8V238.3M319.68 137.8V238.3M324.7 137.8V238.3M224.2 137.8H324.7M224.2 142.83H324.7M224.2 147.85H324.7M224.2 152.88H324.7M224.2 157.9H324.7M224.2 162.93H324.7M224.2 167.95H324.7M224.2 172.98H324.7M224.2 178H324.7M224.2 183.03H324.7M224.2 188.05H324.7M224.2 193.08H324.7M224.2 198.1H324.7M224.2 203.12H324.7M224.2 208.15H324.7M224.2 213.18H324.7M224.2 218.2H324.7M224.2 223.23H324.7M224.2 228.25H324.7M224.2 233.28H324.7M224.2 238.3H324.7" stroke="#000" stroke-opacity="0.42" stroke-width="0.95" fill="none"/></g>
<path d="M210.5 137.8V238.3H338.1" stroke="#8a8a8a" stroke-width="0.9" fill="none"/>
<text x="231.43" y="246.7" text-anchor="middle" font-size="6.3">−10</text>
<text x="252.94" y="246.7" text-anchor="middle" font-size="6.3">−5</text>
<text x="274.45" y="246.7" text-anchor="middle" font-size="6.3">0</text>
<text x="295.96" y="246.7" text-anchor="middle" font-size="6.3">5</text>
<text x="317.47" y="246.7" text-anchor="middle" font-size="6.3">10</text>
<text x="209.2" y="148.33" text-anchor="end" font-size="6.3">10</text>
<text x="209.2" y="169.84" text-anchor="end" font-size="6.3">5</text>
<text x="209.2" y="191.35" text-anchor="end" font-size="6.3">0</text>
<text x="209.2" y="212.86" text-anchor="end" font-size="6.3">−5</text>
<text x="209.2" y="234.37" text-anchor="end" font-size="6.3">−10</text>
<path d="M231.43 238.3v-1.5M252.94 238.3v-1.5M274.45 238.3v-1.5M295.96 238.3v-1.5M317.47 238.3v-1.5M210.5 145.03h1.5M210.5 166.54h1.5M210.5 188.05h1.5M210.5 209.56h1.5M210.5 231.07h1.5" stroke="#8a8a8a" stroke-width="0.6" fill="none"/>
<text x="274.45" y="252.6" text-anchor="middle" font-size="6.3">X, mm</text>
<text transform="translate(201.5 188.05) rotate(-90)" text-anchor="middle" font-size="6.3">Y, mm</text>
<rect x="345.8" y="136.8" width="9.7" height="101.6" fill="url(#jet)"/>
<text x="350.65" y="135.2" text-anchor="middle" font-size="6.3">DE</text>
<text x="356.1" y="141.4" font-size="6.3">90%</text>
<text x="356.1" y="191.25" font-size="6.3">45%</text>
<text x="356.1" y="241.1" font-size="6.3">0%</text>
<path d="M355.5 238.4h-1.2M355.5 227.32h-1.2M355.5 216.24h-1.2M355.5 205.17h-1.2M355.5 194.09h-1.2M355.5 183.01h-1.2M355.5 171.93h-1.2M355.5 160.86h-1.2M355.5 149.78h-1.2M355.5 138.7h-1.2" stroke="#333" stroke-width="0.5" fill="none"/>
<g><rect x="402.9" y="137.8" width="100.1" height="100.4" fill="#00006a"/>
<path fill="#0000ad" d="M402.9 137.8H432.93V142.82H402.9zM477.98 137.8H503V142.82H477.98zM402.9 142.82H422.92V147.84H402.9zM487.99 142.82H503V147.84H487.99zM402.9 147.84H417.91V152.86H402.9zM492.99 147.84H503V152.86H492.99zM402.9 152.86H412.91V157.88H402.9zM498 152.86H503V157.88H498zM402.9 157.88H407.9V162.9H402.9zM498 157.88H503V162.9H498zM402.9 162.9H407.9V167.92H402.9zM402.9 167.92H407.9V172.94H402.9zM402.9 172.94H407.9V177.96H402.9zM402.9 193.02H407.9V198.04H402.9zM402.9 198.04H407.9V203.06H402.9zM402.9 203.06H407.9V208.08H402.9zM402.9 208.08H412.91V213.1H402.9zM498 208.08H503V213.1H498zM402.9 213.1H412.91V218.12H402.9zM498 213.1H503V218.12H498zM402.9 218.12H417.91V223.14H402.9zM492.99 218.12H503V223.14H492.99zM402.9 223.14H422.92V228.16H402.9zM487.99 223.14H503V228.16H487.99zM402.9 228.16H432.93V233.18H402.9zM477.98 228.16H503V233.18H477.98zM402.9 233.18H452.95V238.2H402.9zM457.95 233.18H503V238.2H457.95z"/>
<path fill="#0000c4" d="M432.93 137.8H442.94V142.82H432.93zM467.96 137.8H477.98V142.82H467.96zM422.92 142.82H432.93V147.84H422.92zM477.98 142.82H487.99V147.84H477.98zM417.91 147.84H427.92V152.86H417.91zM482.98 147.84H492.99V152.86H482.98zM412.91 152.86H417.91V157.88H412.91zM487.99 152.86H498V157.88H487.99zM407.9 157.88H412.91V162.9H407.9zM492.99 157.88H498V162.9H492.99zM498 162.9H503V167.92H498z"/>
<path fill="#0000f0" d="M442.94 137.8H447.94V142.82H442.94zM462.96 137.8H467.96V142.82H462.96zM432.93 142.82H437.94V147.84H432.93zM472.97 142.82H477.98V147.84H472.97zM427.92 147.84H432.93V152.86H427.92zM477.98 147.84H482.98V152.86H477.98zM417.91 152.86H427.92V157.88H417.91zM482.98 152.86H487.99V157.88H482.98zM412.91 157.88H422.92V162.9H412.91zM487.99 157.88H492.99V162.9H487.99zM407.9 162.9H412.91V167.92H407.9zM492.99 162.9H498V167.92H492.99zM498 167.92H503V172.94H498z"/>
<path fill="#0080ff" d="M447.94 137.8H452.95V142.82H447.94zM457.95 137.8H462.96V142.82H457.95zM442.94 142.82H447.94V147.84H442.94zM462.96 142.82H467.96V147.84H462.96zM437.94 147.84H442.94V152.86H437.94zM467.96 147.84H472.97V152.86H467.96zM432.93 152.86H437.94V157.88H432.93zM472.97 152.86H477.98V157.88H472.97zM427.92 157.88H432.93V162.9H427.92zM477.98 157.88H482.98V162.9H477.98zM417.91 162.9H422.92V167.92H417.91zM482.98 162.9H487.99V167.92H482.98zM412.91 167.92H417.91V172.94H412.91zM487.99 167.92H492.99V172.94H487.99zM407.9 172.94H412.91V177.96H407.9zM492.99 172.94H498V177.96H492.99zM498 177.96H503V182.98H498zM402.9 182.98H407.9V188H402.9z"/>
<path fill="#00bfff" d="M452.95 137.8H457.95V142.82H452.95zM447.94 142.82H452.95V147.84H447.94zM457.95 142.82H462.96V147.84H457.95zM442.94 147.84H447.94V152.86H442.94zM462.96 147.84H467.96V152.86H462.96zM437.94 152.86H442.94V157.88H437.94zM467.96 152.86H472.97V157.88H467.96zM432.93 157.88H437.94V162.9H432.93zM472.97 157.88H477.98V162.9H472.97zM422.92 162.9H427.92V167.92H422.92zM477.98 162.9H482.98V167.92H477.98zM417.91 167.92H422.92V172.94H417.91zM482.98 167.92H487.99V172.94H482.98zM412.91 172.94H417.91V177.96H412.91zM487.99 172.94H492.99V177.96H487.99zM407.9 177.96H412.91V182.98H407.9zM492.99 177.96H498V182.98H492.99zM407.9 182.98H412.91V188H407.9zM498 182.98H503V188H498zM402.9 188H407.9V193.02H402.9z"/>
<path fill="#0033ff" d="M437.94 142.82H442.94V147.84H437.94zM467.96 142.82H472.97V147.84H467.96zM432.93 147.84H437.94V152.86H432.93zM472.97 147.84H477.98V152.86H472.97zM427.92 152.86H432.93V157.88H427.92zM477.98 152.86H482.98V157.88H477.98zM422.92 157.88H427.92V162.9H422.92zM482.98 157.88H487.99V162.9H482.98zM412.91 162.9H417.91V167.92H412.91zM487.99 162.9H492.99V167.92H487.99zM407.9 167.92H412.91V172.94H407.9zM492.99 167.92H498V172.94H492.99zM498 172.94H503V177.96H498zM402.9 177.96H407.9V182.98H402.9z"/>
<path fill="#00ffff" d="M452.95 142.82H457.95V147.84H452.95zM447.94 147.84H452.95V152.86H447.94zM457.95 147.84H462.96V152.86H457.95zM442.94 152.86H447.94V157.88H442.94zM462.96 152.86H467.96V157.88H462.96zM437.94 157.88H442.94V162.9H437.94zM467.96 157.88H472.97V162.9H467.96zM427.92 162.9H432.93V167.92H427.92zM472.97 162.9H477.98V167.92H472.97zM422.92 167.92H427.92V172.94H422.92zM477.98 167.92H482.98V172.94H477.98zM417.91 172.94H422.92V177.96H417.91zM482.98 172.94H487.99V177.96H482.98zM412.91 177.96H417.91V182.98H412.91zM487.99 177.96H492.99V182.98H487.99zM412.91 182.98H417.91V188H412.91zM492.99 182.98H498V188H492.99zM407.9 188H412.91V193.02H407.9zM498 188H503V193.02H498z"/>
<path fill="#40ffbf" d="M452.95 147.84H457.95V152.86H452.95zM447.94 152.86H452.95V157.88H447.94zM457.95 152.86H462.96V157.88H457.95zM442.94 157.88H447.94V162.9H442.94zM462.96 157.88H467.96V162.9H462.96zM432.93 162.9H437.94V167.92H432.93zM427.92 167.92H432.93V172.94H427.92zM472.97 167.92H477.98V172.94H472.97zM422.92 172.94H427.92V177.96H422.92zM477.98 172.94H482.98V177.96H477.98zM417.91 177.96H422.92V182.98H417.91zM482.98 177.96H487.99V182.98H482.98zM417.91 182.98H422.92V188H417.91zM412.91 188H417.91V193.02H412.91zM492.99 188H498V193.02H492.99zM407.9 193.02H412.91V198.04H407.9zM498 193.02H503V198.04H498zM407.9 198.04H412.91V203.06H407.9zM498 198.04H503V203.06H498z"/>
<path fill="#80ff80" d="M452.95 152.86H457.95V157.88H452.95zM437.94 162.9H442.94V167.92H437.94zM467.96 162.9H472.97V167.92H467.96zM432.93 167.92H437.94V172.94H432.93zM427.92 172.94H432.93V177.96H427.92zM472.97 172.94H477.98V177.96H472.97zM422.92 177.96H427.92V182.98H422.92zM477.98 177.96H482.98V182.98H477.98zM487.99 182.98H492.99V188H487.99zM417.91 188H422.92V193.02H417.91zM487.99 188H492.99V193.02H487.99zM412.91 193.02H417.91V198.04H412.91zM492.99 193.02H498V198.04H492.99zM492.99 198.04H498V203.06H492.99zM407.9 203.06H412.91V208.08H407.9zM498 203.06H503V208.08H498z"/>
<path fill="#bfff40" d="M447.94 157.88H462.96V162.9H447.94zM442.94 162.9H447.94V167.92H442.94zM462.96 162.9H467.96V167.92H462.96zM437.94 167.92H442.94V172.94H437.94zM467.96 167.92H472.97V172.94H467.96zM432.93 172.94H437.94V177.96H432.93zM427.92 177.96H432.93V182.98H427.92zM472.97 177.96H477.98V182.98H472.97zM422.92 182.98H427.92V188H422.92zM482.98 182.98H487.99V188H482.98zM417.91 193.02H422.92V198.04H417.91zM487.99 193.02H492.99V198.04H487.99zM412.91 198.04H417.91V203.06H412.91zM412.91 203.06H417.91V208.08H412.91zM492.99 203.06H498V208.08H492.99zM492.99 208.08H498V213.1H492.99zM412.91 213.1H417.91V218.12H412.91zM492.99 213.1H498V218.12H492.99z"/>
<path fill="#ffff00" d="M447.94 162.9H462.96V167.92H447.94zM442.94 167.92H447.94V172.94H442.94zM462.96 167.92H467.96V172.94H462.96zM437.94 172.94H442.94V177.96H437.94zM467.96 172.94H472.97V177.96H467.96zM432.93 177.96H437.94V182.98H432.93zM427.92 182.98H432.93V188H427.92zM422.92 188H427.92V193.02H422.92zM482.98 188H487.99V193.02H482.98zM417.91 198.04H422.92V203.06H417.91zM487.99 198.04H492.99V203.06H487.99zM417.91 203.06H422.92V208.08H417.91zM487.99 203.06H492.99V208.08H487.99zM412.91 208.08H417.91V213.1H412.91zM487.99 208.08H492.99V213.1H487.99zM417.91 213.1H422.92V218.12H417.91zM487.99 213.1H492.99V218.12H487.99zM417.91 218.12H422.92V223.14H417.91zM487.99 218.12H492.99V223.14H487.99z"/>
<path fill="#ffbf00" d="M447.94 167.92H462.96V172.94H447.94zM442.94 172.94H447.94V177.96H442.94zM462.96 172.94H467.96V177.96H462.96zM437.94 177.96H442.94V182.98H437.94zM467.96 177.96H472.97V182.98H467.96zM432.93 182.98H437.94V188H432.93zM477.98 182.98H482.98V188H477.98zM427.92 188H432.93V193.02H427.92zM477.98 188H482.98V193.02H477.98zM422.92 193.02H427.92V198.04H422.92zM482.98 193.02H487.99V198.04H482.98zM422.92 198.04H427.92V203.06H422.92zM482.98 198.04H487.99V203.06H482.98zM482.98 203.06H487.99V208.08H482.98zM417.91 208.08H422.92V213.1H417.91zM482.98 208.08H487.99V213.1H482.98zM422.92 213.1H427.92V218.12H422.92zM482.98 213.1H487.99V218.12H482.98zM422.92 218.12H427.92V223.14H422.92zM482.98 218.12H487.99V223.14H482.98zM422.92 223.14H427.92V228.16H422.92z"/>
<path fill="#ff8000" d="M447.94 172.94H462.96V177.96H447.94zM442.94 177.96H447.94V182.98H442.94zM462.96 177.96H467.96V182.98H462.96zM437.94 182.98H442.94V188H437.94zM472.97 182.98H477.98V188H472.97zM432.93 188H437.94V193.02H432.93zM472.97 188H477.98V193.02H472.97zM427.92 193.02H432.93V198.04H427.92zM477.98 193.02H482.98V198.04H477.98zM427.92 198.04H432.93V203.06H427.92zM477.98 198.04H482.98V203.06H477.98zM422.92 203.06H427.92V208.08H422.92zM477.98 203.06H482.98V208.08H477.98zM422.92 208.08H427.92V213.1H422.92zM477.98 208.08H482.98V213.1H477.98zM427.92 213.1H432.93V218.12H427.92zM477.98 213.1H482.98V218.12H477.98zM427.92 218.12H432.93V223.14H427.92zM477.98 218.12H482.98V223.14H477.98zM427.92 223.14H432.93V228.16H427.92zM482.98 223.14H487.99V228.16H482.98z"/>
<path fill="#ff4000" d="M447.94 177.96H462.96V182.98H447.94zM442.94 182.98H447.94V188H442.94zM467.96 182.98H472.97V188H467.96zM437.94 188H442.94V193.02H437.94zM467.96 188H472.97V193.02H467.96zM432.93 193.02H437.94V198.04H432.93zM472.97 193.02H477.98V198.04H472.97zM432.93 198.04H437.94V203.06H432.93zM472.97 198.04H477.98V203.06H472.97zM427.92 203.06H432.93V208.08H427.92zM472.97 203.06H477.98V208.08H472.97zM427.92 208.08H432.93V213.1H427.92zM472.97 208.08H477.98V213.1H472.97zM472.97 213.1H477.98V218.12H472.97zM472.97 218.12H477.98V223.14H472.97zM477.98 223.14H482.98V228.16H477.98z"/>
<path fill="#ff0000" d="M447.94 182.98H467.96V188H447.94zM442.94 188H467.96V193.02H442.94zM437.94 193.02H442.94V198.04H437.94zM467.96 193.02H472.97V198.04H467.96zM437.94 198.04H442.94V203.06H437.94zM467.96 198.04H472.97V203.06H467.96zM432.93 203.06H437.94V208.08H432.93zM467.96 203.06H472.97V208.08H467.96zM432.93 208.08H437.94V213.1H432.93zM467.96 208.08H472.97V213.1H467.96zM432.93 213.1H437.94V218.12H432.93zM467.96 213.1H472.97V218.12H467.96zM432.93 218.12H442.94V223.14H432.93zM467.96 218.12H472.97V223.14H467.96zM432.93 223.14H442.94V228.16H432.93zM462.96 223.14H477.98V228.16H462.96zM432.93 228.16H477.98V233.18H432.93zM452.95 233.18H457.95V238.2H452.95z"/>
<path fill="#bf0000" d="M442.94 193.02H467.96V198.04H442.94zM442.94 198.04H447.94V203.06H442.94zM462.96 198.04H467.96V203.06H462.96zM437.94 203.06H447.94V208.08H437.94zM462.96 203.06H467.96V208.08H462.96zM437.94 208.08H442.94V213.1H437.94zM462.96 208.08H467.96V213.1H462.96zM437.94 213.1H447.94V218.12H437.94zM462.96 213.1H467.96V218.12H462.96zM442.94 218.12H452.95V223.14H442.94zM457.95 218.12H467.96V223.14H457.95zM442.94 223.14H462.96V228.16H442.94z"/>
<path fill="#800000" d="M447.94 198.04H462.96V203.06H447.94zM447.94 203.06H462.96V208.08H447.94zM442.94 208.08H462.96V213.1H442.94zM447.94 213.1H462.96V218.12H447.94zM452.95 218.12H457.95V223.14H452.95z"/>
<path d="M402.9 137.8V238.2M407.9 137.8V238.2M412.91 137.8V238.2M417.91 137.8V238.2M422.92 137.8V238.2M427.92 137.8V238.2M432.93 137.8V238.2M437.94 137.8V238.2M442.94 137.8V238.2M447.94 137.8V238.2M452.95 137.8V238.2M457.95 137.8V238.2M462.96 137.8V238.2M467.96 137.8V238.2M472.97 137.8V238.2M477.98 137.8V238.2M482.98 137.8V238.2M487.99 137.8V238.2M492.99 137.8V238.2M498 137.8V238.2M503 137.8V238.2M402.9 137.8H503M402.9 142.82H503M402.9 147.84H503M402.9 152.86H503M402.9 157.88H503M402.9 162.9H503M402.9 167.92H503M402.9 172.94H503M402.9 177.96H503M402.9 182.98H503M402.9 188H503M402.9 193.02H503M402.9 198.04H503M402.9 203.06H503M402.9 208.08H503M402.9 213.1H503M402.9 218.12H503M402.9 223.14H503M402.9 228.16H503M402.9 233.18H503M402.9 238.2H503" stroke="#000" stroke-opacity="0.42" stroke-width="0.95" fill="none"/></g>
<path d="M388.5 137.8V238.2H516.5" stroke="#8a8a8a" stroke-width="0.9" fill="none"/>
<text x="410.1" y="246.6" text-anchor="middle" font-size="6.3">−10</text>
<text x="431.52" y="246.6" text-anchor="middle" font-size="6.3">−5</text>
<text x="452.95" y="246.6" text-anchor="middle" font-size="6.3">0</text>
<text x="474.38" y="246.6" text-anchor="middle" font-size="6.3">5</text>
<text x="495.8" y="246.6" text-anchor="middle" font-size="6.3">10</text>
<text x="387.2" y="148.32" text-anchor="end" font-size="6.3">10</text>
<text x="387.2" y="169.81" text-anchor="end" font-size="6.3">5</text>
<text x="387.2" y="191.3" text-anchor="end" font-size="6.3">0</text>
<text x="387.2" y="212.79" text-anchor="end" font-size="6.3">−5</text>
<text x="387.2" y="234.28" text-anchor="end" font-size="6.3">−10</text>
<path d="M410.1 238.2v-1.5M431.52 238.2v-1.5M452.95 238.2v-1.5M474.38 238.2v-1.5M495.8 238.2v-1.5M388.5 145.02h1.5M388.5 166.51h1.5M388.5 188h1.5M388.5 209.49h1.5M388.5 230.98h1.5" stroke="#8a8a8a" stroke-width="0.6" fill="none"/>
<text x="452.95" y="252.5" text-anchor="middle" font-size="6.3">X, mm</text>
<text transform="translate(379.5 188) rotate(-90)" text-anchor="middle" font-size="6.3">Y, mm</text>
<rect x="524.1" y="137.2" width="9.6" height="101.3" fill="url(#jet)"/>
<text x="528.9" y="135.6" text-anchor="middle" font-size="6.3">DE</text>
<text x="534.3" y="141.4" font-size="6.3">90%</text>
<text x="534.3" y="191.3" font-size="6.3">45%</text>
<text x="534.3" y="241.2" font-size="6.3">0%</text>
<path d="M533.7 238.5h-1.2M533.7 227.41h-1.2M533.7 216.32h-1.2M533.7 205.23h-1.2M533.7 194.14h-1.2M533.7 183.06h-1.2M533.7 171.97h-1.2M533.7 160.88h-1.2M533.7 149.79h-1.2M533.7 138.7h-1.2" stroke="#333" stroke-width="0.5" fill="none"/>
<g><rect x="48" y="262.1" width="100.4" height="100.9" fill="#00006a"/>
<path fill="#0000ad" d="M48 262.1H83.14V267.15H48zM118.28 262.1H148.4V267.15H118.28zM48 267.15H78.12V272.19H48zM128.32 267.15H148.4V272.19H128.32zM48 272.19H73.1V277.24H48zM128.32 272.19H148.4V277.24H128.32zM48 277.24H68.08V282.28H48zM133.34 277.24H148.4V282.28H133.34zM48 282.28H68.08V287.33H48zM138.36 282.28H148.4V287.33H138.36zM48 287.33H63.06V292.37H48zM138.36 287.33H148.4V292.37H138.36zM48 292.37H68.08V297.42H48zM138.36 292.37H148.4V297.42H138.36zM48 297.42H68.08V302.46H48zM133.34 297.42H148.4V302.46H133.34zM48 302.46H68.08V307.5H48zM133.34 302.46H148.4V307.5H133.34z"/>
<path fill="#0000f0" d="M83.14 262.1H88.16V267.15H83.14zM113.26 262.1H118.28V267.15H113.26zM78.12 267.15H83.14V272.19H78.12zM118.28 267.15H123.3V272.19H118.28zM73.1 272.19H78.12V277.24H73.1zM123.3 272.19H128.32V277.24H123.3zM68.08 282.28H73.1V287.33H68.08zM128.32 282.28H133.34V287.33H128.32zM68.08 287.33H73.1V292.37H68.08zM128.32 287.33H133.34V292.37H128.32zM68.08 292.37H73.1V297.42H68.08zM128.32 292.37H133.34V297.42H128.32zM68.08 297.42H73.1V302.46H68.08zM128.32 297.42H133.34V302.46H128.32zM73.1 302.46H78.12V307.5H73.1zM123.3 302.46H128.32V307.5H123.3zM73.1 307.5H78.12V312.55H73.1zM118.28 307.5H123.3V312.55H118.28zM78.12 312.55H88.16V317.6H78.12zM108.24 312.55H118.28V317.6H108.24zM83.14 317.6H113.26V322.64H83.14zM83.14 322.64H113.26V327.69H83.14zM83.14 327.69H88.16V332.73H83.14zM113.26 327.69H118.28V332.73H113.26zM113.26 332.73H118.28V337.77H113.26zM113.26 337.77H118.28V342.82H113.26zM113.26 342.82H118.28V347.87H113.26zM88.16 347.87H93.18V352.91H88.16zM93.18 352.91H98.2V357.95H93.18zM108.24 352.91H113.26V357.95H108.24zM98.2 357.95H108.24V363H98.2z"/>
<path fill="#0080ff" d="M88.16 262.1H93.18V267.15H88.16zM108.24 262.1H113.26V267.15H108.24zM83.14 267.15H88.16V272.19H83.14zM113.26 267.15H118.28V272.19H113.26zM78.12 272.19H83.14V277.24H78.12zM73.1 282.28H78.12V287.33H73.1zM123.3 282.28H128.32V287.33H123.3zM73.1 287.33H78.12V292.37H73.1zM123.3 287.33H128.32V292.37H123.3zM73.1 292.37H78.12V297.42H73.1zM123.3 292.37H128.32V297.42H123.3zM78.12 302.46H83.14V307.5H78.12zM118.28 302.46H123.3V307.5H118.28zM83.14 307.5H88.16V312.55H83.14zM108.24 307.5H113.26V312.55H108.24zM93.18 332.73H108.24V337.77H93.18zM93.18 337.77H98.2V342.82H93.18zM93.18 342.82H98.2V347.87H93.18zM108.24 342.82H113.26V347.87H108.24z"/>
<path fill="#80ff80" d="M93.18 262.1H98.2V267.15H93.18zM103.22 262.1H108.24V267.15H103.22zM83.14 277.24H88.16V282.28H83.14zM113.26 277.24H118.28V282.28H113.26zM83.14 287.33H88.16V292.37H83.14zM83.14 292.37H88.16V297.42H83.14zM113.26 292.37H118.28V297.42H113.26zM88.16 297.42H93.18V302.46H88.16zM108.24 297.42H113.26V302.46H108.24z"/>
<path fill="#ff8000" d="M98.2 262.1H103.22V267.15H98.2zM93.18 267.15H98.2V272.19H93.18zM103.22 267.15H108.24V272.19H103.22zM88.16 277.24H93.18V282.28H88.16zM108.24 277.24H113.26V282.28H108.24zM88.16 282.28H93.18V287.33H88.16zM108.24 282.28H113.26V287.33H108.24zM93.18 292.37H108.24V297.42H93.18z"/>
<path fill="#40ffbf" d="M88.16 267.15H93.18V272.19H88.16zM108.24 267.15H113.26V272.19H108.24zM83.14 297.42H88.16V302.46H83.14zM113.26 297.42H118.28V302.46H113.26zM93.18 302.46H108.24V307.5H93.18z"/>
<path fill="#ff0000" d="M98.2 267.15H103.22V272.19H98.2zM93.18 272.19H98.2V277.24H93.18zM103.22 272.19H108.24V277.24H103.22zM103.22 277.24H108.24V282.28H103.22zM93.18 282.28H98.2V287.33H93.18zM103.22 282.28H108.24V287.33H103.22zM93.18 287.33H108.24V292.37H93.18z"/>
<path fill="#0000c4" d="M123.3 267.15H128.32V272.19H123.3zM68.08 277.24H73.1V282.28H68.08zM128.32 277.24H133.34V282.28H128.32zM133.34 282.28H138.36V287.33H133.34zM63.06 287.33H68.08V292.37H63.06zM133.34 287.33H138.36V292.37H133.34zM133.34 292.37H138.36V297.42H133.34zM68.08 302.46H73.1V307.5H68.08zM128.32 302.46H133.34V307.5H128.32zM48 307.5H73.1V312.55H48zM123.3 307.5H148.4V312.55H123.3zM48 312.55H78.12V317.6H48zM118.28 312.55H148.4V317.6H118.28zM48 317.6H83.14V322.64H48zM113.26 317.6H148.4V322.64H113.26zM48 322.64H83.14V327.69H48zM113.26 322.64H148.4V327.69H113.26zM48 327.69H83.14V332.73H48zM118.28 327.69H148.4V332.73H118.28zM48 332.73H83.14V337.77H48zM118.28 332.73H148.4V337.77H118.28zM48 337.77H83.14V342.82H48zM118.28 337.77H148.4V342.82H118.28zM48 342.82H88.16V347.87H48zM118.28 342.82H148.4V347.87H118.28zM48 347.87H88.16V352.91H48zM113.26 347.87H148.4V352.91H113.26zM48 352.91H93.18V357.95H48zM113.26 352.91H148.4V357.95H113.26zM48 357.95H98.2V363H48zM108.24 357.95H148.4V363H108.24z"/>
<path fill="#00ffff" d="M83.14 272.19H88.16V277.24H83.14zM113.26 272.19H118.28V277.24H113.26zM78.12 282.28H83.14V287.33H78.12zM118.28 282.28H123.3V287.33H118.28zM78.12 287.33H83.14V292.37H78.12zM118.28 287.33H123.3V292.37H118.28zM78.12 292.37H83.14V297.42H78.12zM118.28 292.37H123.3V297.42H118.28zM88.16 302.46H93.18V307.5H88.16zM108.24 302.46H113.26V307.5H108.24zM98.2 342.82H108.24V347.87H98.2zM98.2 347.87H108.24V352.91H98.2zM103.22 352.91H108.24V357.95H103.22z"/>
<path fill="#ffff00" d="M88.16 272.19H93.18V277.24H88.16zM108.24 272.19H113.26V277.24H108.24zM88.16 292.37H93.18V297.42H88.16zM108.24 292.37H113.26V297.42H108.24zM93.18 297.42H103.22V302.46H93.18z"/>
<path fill="#bf0000" d="M98.2 272.19H103.22V277.24H98.2zM93.18 277.24H98.2V282.28H93.18zM98.2 282.28H103.22V287.33H98.2z"/>
<path fill="#0033ff" d="M118.28 272.19H123.3V277.24H118.28zM73.1 277.24H78.12V282.28H73.1zM123.3 277.24H128.32V282.28H123.3zM73.1 297.42H78.12V302.46H73.1zM123.3 297.42H128.32V302.46H123.3zM78.12 307.5H83.14V312.55H78.12zM113.26 307.5H118.28V312.55H113.26zM88.16 312.55H108.24V317.6H88.16zM88.16 327.69H113.26V332.73H88.16zM83.14 332.73H93.18V337.77H83.14zM108.24 332.73H113.26V337.77H108.24zM83.14 337.77H93.18V342.82H83.14zM108.24 337.77H113.26V342.82H108.24zM88.16 342.82H93.18V347.87H88.16zM93.18 347.87H98.2V352.91H93.18zM108.24 347.87H113.26V352.91H108.24z"/>
<path fill="#00bfff" d="M78.12 277.24H83.14V282.28H78.12zM118.28 277.24H123.3V282.28H118.28zM78.12 297.42H83.14V302.46H78.12zM118.28 297.42H123.3V302.46H118.28zM83.14 302.46H88.16V307.5H83.14zM113.26 302.46H118.28V307.5H113.26zM88.16 307.5H108.24V312.55H88.16zM98.2 337.77H108.24V342.82H98.2zM98.2 352.91H103.22V357.95H98.2z"/>
<path fill="#800000" d="M98.2 277.24H103.22V282.28H98.2z"/>
<path fill="#bfff40" d="M83.14 282.28H88.16V287.33H83.14zM113.26 282.28H118.28V287.33H113.26zM113.26 287.33H118.28V292.37H113.26zM103.22 297.42H108.24V302.46H103.22z"/>
<path fill="#ffbf00" d="M88.16 287.33H93.18V292.37H88.16zM108.24 287.33H113.26V292.37H108.24z"/>
<path d="M48 262.1V363M53.02 262.1V363M58.04 262.1V363M63.06 262.1V363M68.08 262.1V363M73.1 262.1V363M78.12 262.1V363M83.14 262.1V363M88.16 262.1V363M93.18 262.1V363M98.2 262.1V363M103.22 262.1V363M108.24 262.1V363M113.26 262.1V363M118.28 262.1V363M123.3 262.1V363M128.32 262.1V363M133.34 262.1V363M138.36 262.1V363M143.38 262.1V363M148.4 262.1V363M48 262.1H148.4M48 267.15H148.4M48 272.19H148.4M48 277.24H148.4M48 282.28H148.4M48 287.33H148.4M48 292.37H148.4M48 297.42H148.4M48 302.46H148.4M48 307.5H148.4M48 312.55H148.4M48 317.6H148.4M48 322.64H148.4M48 327.69H148.4M48 332.73H148.4M48 337.77H148.4M48 342.82H148.4M48 347.87H148.4M48 352.91H148.4M48 357.95H148.4M48 363H148.4" stroke="#000" stroke-opacity="0.42" stroke-width="0.95" fill="none"/></g>
<path d="M34 262.1V363H162.2" stroke="#8a8a8a" stroke-width="0.9" fill="none"/>
<text x="43.19" y="371.4" text-anchor="middle" font-size="6.3">5</text>
<text x="64.68" y="371.4" text-anchor="middle" font-size="6.3">10</text>
<text x="86.17" y="371.4" text-anchor="middle" font-size="6.3">15</text>
<text x="107.66" y="371.4" text-anchor="middle" font-size="6.3">20</text>
<text x="129.15" y="371.4" text-anchor="middle" font-size="6.3">25</text>
<text x="150.63" y="371.4" text-anchor="middle" font-size="6.3">30</text>
<text x="32.7" y="267.04" text-anchor="end" font-size="6.3">15</text>
<text x="32.7" y="288.64" text-anchor="end" font-size="6.3">10</text>
<text x="32.7" y="310.23" text-anchor="end" font-size="6.3">5</text>
<text x="32.7" y="331.83" text-anchor="end" font-size="6.3">0</text>
<text x="32.7" y="353.43" text-anchor="end" font-size="6.3">−5</text>
<path d="M43.19 363v-1.5M64.68 363v-1.5M86.17 363v-1.5M107.66 363v-1.5M129.15 363v-1.5M150.63 363v-1.5M34 263.74h1.5M34 285.34h1.5M34 306.93h1.5M34 328.53h1.5M34 350.13h1.5" stroke="#8a8a8a" stroke-width="0.6" fill="none"/>
<text x="98.2" y="377.3" text-anchor="middle" font-size="6.3">X, mm</text>
<text transform="translate(25 312.55) rotate(-90)" text-anchor="middle" font-size="6.3">Y, mm</text>
<rect x="169.6" y="261.6" width="9.3" height="101.6" fill="url(#jet)"/>
<text x="174.25" y="260" text-anchor="middle" font-size="6.3">DE</text>
<text x="179.5" y="270.3" font-size="6.3">70%</text>
<text x="179.5" y="318.1" font-size="6.3">35%</text>
<text x="179.5" y="365.9" font-size="6.3">0%</text>
<path d="M178.9 363.2h-1.2M178.9 349.54h-1.2M178.9 335.89h-1.2M178.9 322.23h-1.2M178.9 308.57h-1.2M178.9 294.91h-1.2M178.9 281.26h-1.2M178.9 267.6h-1.2" stroke="#333" stroke-width="0.5" fill="none"/>
<g><rect x="226.1" y="263.5" width="100.4" height="100.7" fill="#00006a"/>
<path fill="#0000ad" d="M226.1 263.5H261.24V268.54H226.1zM296.38 263.5H326.5V268.54H296.38zM226.1 268.54H251.2V273.57H226.1zM301.4 268.54H326.5V273.57H301.4zM226.1 273.57H241.16V278.61H226.1zM311.44 273.57H326.5V278.61H311.44zM226.1 278.61H236.14V283.64H226.1zM316.46 278.61H326.5V283.64H316.46zM226.1 283.64H231.12V288.68H226.1zM321.48 283.64H326.5V288.68H321.48zM226.1 328.95H231.12V333.99H226.1zM226.1 333.99H231.12V339.02H226.1zM321.48 333.99H326.5V339.02H321.48zM226.1 339.02H236.14V344.06H226.1zM321.48 339.02H326.5V344.06H321.48zM226.1 344.06H241.16V349.09H226.1zM316.46 344.06H326.5V349.09H316.46zM226.1 349.09H246.18V354.13H226.1zM306.42 349.09H326.5V354.13H306.42zM226.1 354.13H256.22V359.16H226.1zM301.4 354.13H326.5V359.16H301.4zM226.1 359.16H276.3V364.2H226.1zM281.32 359.16H326.5V364.2H281.32z"/>
<path fill="#0000c4" d="M261.24 263.5H266.26V268.54H261.24zM291.36 263.5H296.38V268.54H291.36zM251.2 268.54H256.22V273.57H251.2zM296.38 268.54H301.4V273.57H296.38zM241.16 273.57H251.2V278.61H241.16zM306.42 273.57H311.44V278.61H306.42zM236.14 278.61H241.16V283.64H236.14zM311.44 278.61H316.46V283.64H311.44zM231.12 283.64H236.14V288.68H231.12zM316.46 283.64H321.48V288.68H316.46zM226.1 288.68H231.12V293.71H226.1zM321.48 288.68H326.5V293.71H321.48zM226.1 318.88H231.12V323.92H226.1zM226.1 323.92H231.12V328.95H226.1zM321.48 328.95H326.5V333.99H321.48zM316.46 339.02H321.48V344.06H316.46zM311.44 344.06H316.46V349.09H311.44z"/>
<path fill="#0000f0" d="M266.26 263.5H271.28V268.54H266.26zM286.34 263.5H291.36V268.54H286.34zM256.22 268.54H261.24V273.57H256.22zM251.2 273.57H256.22V278.61H251.2zM301.4 273.57H306.42V278.61H301.4zM241.16 278.61H246.18V283.64H241.16zM306.42 278.61H311.44V283.64H306.42zM236.14 283.64H241.16V288.68H236.14zM311.44 283.64H316.46V288.68H311.44zM231.12 288.68H236.14V293.71H231.12zM316.46 288.68H321.48V293.71H316.46zM226.1 293.71H231.12V298.75H226.1zM321.48 293.71H326.5V298.75H321.48zM226.1 298.75H231.12V303.78H226.1zM321.48 298.75H326.5V303.78H321.48zM321.48 318.88H326.5V323.92H321.48zM321.48 323.92H326.5V328.95H321.48zM231.12 333.99H236.14V339.02H231.12zM316.46 333.99H321.48V339.02H316.46z"/>
<path fill="#00ffff" d="M271.28 263.5H276.3V268.54H271.28zM281.32 263.5H286.34V268.54H281.32zM256.22 278.61H261.24V283.64H256.22zM251.2 283.64H256.22V288.68H251.2zM301.4 288.68H306.42V293.71H301.4zM306.42 293.71H311.44V298.75H306.42zM241.16 298.75H246.18V303.78H241.16zM236.14 303.78H241.16V308.81H236.14zM311.44 303.78H316.46V308.81H311.44zM236.14 308.81H241.16V313.85H236.14zM311.44 308.81H316.46V313.85H311.44zM236.14 313.85H241.16V318.88H236.14zM311.44 313.85H316.46V318.88H311.44zM236.14 318.88H241.16V323.92H236.14zM311.44 318.88H316.46V323.92H311.44zM236.14 323.92H241.16V328.95H236.14zM311.44 323.92H316.46V328.95H311.44zM241.16 328.95H246.18V333.99H241.16zM241.16 333.99H246.18V339.02H241.16zM306.42 333.99H311.44V339.02H306.42zM241.16 339.02H246.18V344.06H241.16zM306.42 339.02H311.44V344.06H306.42zM251.2 344.06H256.22V349.09H251.2zM296.38 344.06H301.4V349.09H296.38zM256.22 349.09H296.38V354.13H256.22z"/>
<path fill="#40ffbf" d="M276.3 263.5H281.32V268.54H276.3zM271.28 268.54H276.3V273.57H271.28zM281.32 268.54H286.34V273.57H281.32zM266.26 273.57H271.28V278.61H266.26zM286.34 273.57H291.36V278.61H286.34zM261.24 278.61H266.26V283.64H261.24zM291.36 278.61H296.38V283.64H291.36zM256.22 283.64H261.24V288.68H256.22zM296.38 283.64H301.4V288.68H296.38zM251.2 288.68H256.22V293.71H251.2zM246.18 293.71H251.2V298.75H246.18zM301.4 293.71H306.42V298.75H301.4zM306.42 298.75H311.44V303.78H306.42zM241.16 303.78H246.18V308.81H241.16zM306.42 303.78H311.44V308.81H306.42zM241.16 308.81H246.18V313.85H241.16zM241.16 318.88H246.18V323.92H241.16zM241.16 323.92H246.18V328.95H241.16zM246.18 328.95H251.2V333.99H246.18zM306.42 328.95H311.44V333.99H306.42zM246.18 333.99H251.2V339.02H246.18zM246.18 339.02H251.2V344.06H246.18zM301.4 339.02H306.42V344.06H301.4zM256.22 344.06H266.26V349.09H256.22zM291.36 344.06H296.38V349.09H291.36z"/>
<path fill="#0080ff" d="M261.24 268.54H266.26V273.57H261.24zM251.2 278.61H256.22V283.64H251.2zM246.18 283.64H251.2V288.68H246.18zM241.16 288.68H246.18V293.71H241.16zM236.14 293.71H241.16V298.75H236.14zM311.44 293.71H316.46V298.75H311.44zM231.12 298.75H236.14V303.78H231.12zM231.12 303.78H236.14V308.81H231.12zM316.46 303.78H321.48V308.81H316.46zM226.1 313.85H231.12V318.88H226.1zM321.48 313.85H326.5V318.88H321.48zM231.12 323.92H236.14V328.95H231.12zM316.46 323.92H321.48V328.95H316.46zM236.14 333.99H241.16V339.02H236.14zM311.44 333.99H316.46V339.02H311.44zM236.14 339.02H241.16V344.06H236.14zM311.44 339.02H316.46V344.06H311.44zM241.16 344.06H246.18V349.09H241.16zM306.42 344.06H311.44V349.09H306.42zM246.18 349.09H251.2V354.13H246.18zM301.4 349.09H306.42V354.13H301.4zM256.22 354.13H261.24V359.16H256.22zM291.36 354.13H301.4V359.16H291.36zM276.3 359.16H281.32V364.2H276.3z"/>
<path fill="#00bfff" d="M266.26 268.54H271.28V273.57H266.26zM286.34 268.54H291.36V273.57H286.34zM261.24 273.57H266.26V278.61H261.24zM291.36 273.57H296.38V278.61H291.36zM296.38 278.61H301.4V283.64H296.38zM301.4 283.64H306.42V288.68H301.4zM246.18 288.68H251.2V293.71H246.18zM306.42 288.68H311.44V293.71H306.42zM241.16 293.71H246.18V298.75H241.16zM236.14 298.75H241.16V303.78H236.14zM311.44 298.75H316.46V303.78H311.44zM231.12 308.81H236.14V313.85H231.12zM316.46 308.81H321.48V313.85H316.46zM231.12 313.85H236.14V318.88H231.12zM316.46 313.85H321.48V318.88H316.46zM231.12 318.88H236.14V323.92H231.12zM316.46 318.88H321.48V323.92H316.46zM236.14 328.95H241.16V333.99H236.14zM311.44 328.95H316.46V333.99H311.44zM246.18 344.06H251.2V349.09H246.18zM301.4 344.06H306.42V349.09H301.4zM251.2 349.09H256.22V354.13H251.2zM296.38 349.09H301.4V354.13H296.38zM261.24 354.13H291.36V359.16H261.24z"/>
<path fill="#80ff80" d="M276.3 268.54H281.32V273.57H276.3zM256.22 288.68H261.24V293.71H256.22zM296.38 288.68H301.4V293.71H296.38zM251.2 293.71H256.22V298.75H251.2zM246.18 298.75H251.2V303.78H246.18zM301.4 298.75H306.42V303.78H301.4zM246.18 303.78H251.2V308.81H246.18zM306.42 308.81H311.44V313.85H306.42zM241.16 313.85H246.18V318.88H241.16zM306.42 313.85H311.44V318.88H306.42zM246.18 318.88H251.2V323.92H246.18zM306.42 318.88H311.44V323.92H306.42zM246.18 323.92H251.2V328.95H246.18zM306.42 323.92H311.44V328.95H306.42zM251.2 328.95H256.22V333.99H251.2zM301.4 328.95H306.42V333.99H301.4zM251.2 333.99H256.22V339.02H251.2zM301.4 333.99H306.42V339.02H301.4zM251.2 339.02H261.24V344.06H251.2zM296.38 339.02H301.4V344.06H296.38zM266.26 344.06H291.36V349.09H266.26z"/>
<path fill="#0033ff" d="M291.36 268.54H296.38V273.57H291.36zM256.22 273.57H261.24V278.61H256.22zM296.38 273.57H301.4V278.61H296.38zM246.18 278.61H251.2V283.64H246.18zM301.4 278.61H306.42V283.64H301.4zM241.16 283.64H246.18V288.68H241.16zM306.42 283.64H311.44V288.68H306.42zM236.14 288.68H241.16V293.71H236.14zM311.44 288.68H316.46V293.71H311.44zM231.12 293.71H236.14V298.75H231.12zM316.46 293.71H321.48V298.75H316.46zM316.46 298.75H321.48V303.78H316.46zM226.1 303.78H231.12V308.81H226.1zM321.48 303.78H326.5V308.81H321.48zM226.1 308.81H231.12V313.85H226.1zM321.48 308.81H326.5V313.85H321.48zM231.12 328.95H236.14V333.99H231.12zM316.46 328.95H321.48V333.99H316.46z"/>
<path fill="#bfff40" d="M271.28 273.57H276.3V278.61H271.28zM281.32 273.57H286.34V278.61H281.32zM266.26 278.61H271.28V283.64H266.26zM286.34 278.61H291.36V283.64H286.34zM261.24 283.64H266.26V288.68H261.24zM291.36 283.64H296.38V288.68H291.36zM251.2 298.75H256.22V303.78H251.2zM301.4 303.78H306.42V308.81H301.4zM246.18 308.81H251.2V313.85H246.18zM246.18 313.85H251.2V318.88H246.18zM301.4 318.88H306.42V323.92H301.4zM251.2 323.92H256.22V328.95H251.2zM301.4 323.92H306.42V328.95H301.4zM256.22 333.99H261.24V339.02H256.22zM296.38 333.99H301.4V339.02H296.38zM261.24 339.02H271.28V344.06H261.24zM286.34 339.02H296.38V344.06H286.34z"/>
<path fill="#ffff00" d="M276.3 273.57H281.32V278.61H276.3zM261.24 288.68H266.26V293.71H261.24zM291.36 288.68H296.38V293.71H291.36zM256.22 293.71H261.24V298.75H256.22zM296.38 293.71H301.4V298.75H296.38zM251.2 303.78H256.22V308.81H251.2zM251.2 308.81H256.22V313.85H251.2zM301.4 308.81H306.42V313.85H301.4zM251.2 313.85H256.22V318.88H251.2zM301.4 313.85H306.42V318.88H301.4zM251.2 318.88H256.22V323.92H251.2zM256.22 328.95H261.24V333.99H256.22zM296.38 328.95H301.4V333.99H296.38zM261.24 333.99H276.3V339.02H261.24zM281.32 333.99H296.38V339.02H281.32zM271.28 339.02H286.34V344.06H271.28z"/>
<path fill="#ffbf00" d="M271.28 278.61H286.34V283.64H271.28zM266.26 283.64H271.28V288.68H266.26zM286.34 283.64H291.36V288.68H286.34zM261.24 328.95H271.28V333.99H261.24zM286.34 328.95H296.38V333.99H286.34zM276.3 333.99H281.32V339.02H276.3z"/>
<path fill="#ff4000" d="M271.28 283.64H286.34V288.68H271.28zM266.26 288.68H271.28V293.71H266.26zM286.34 288.68H291.36V293.71H286.34zM261.24 293.71H266.26V298.75H261.24zM291.36 293.71H296.38V298.75H291.36zM256.22 303.78H261.24V308.81H256.22zM296.38 303.78H301.4V308.81H296.38zM256.22 308.81H261.24V313.85H256.22zM296.38 308.81H301.4V313.85H296.38zM256.22 313.85H261.24V318.88H256.22zM296.38 313.85H301.4V318.88H296.38zM261.24 318.88H266.26V323.92H261.24zM291.36 318.88H296.38V323.92H291.36zM261.24 323.92H266.26V328.95H261.24zM291.36 323.92H296.38V328.95H291.36z"/>
<path fill="#ff0000" d="M271.28 288.68H286.34V293.71H271.28zM266.26 293.71H271.28V298.75H266.26zM286.34 293.71H291.36V298.75H286.34zM261.24 298.75H271.28V303.78H261.24zM286.34 298.75H296.38V303.78H286.34zM261.24 303.78H266.26V308.81H261.24zM291.36 303.78H296.38V308.81H291.36zM261.24 308.81H266.26V313.85H261.24zM291.36 308.81H296.38V313.85H291.36zM261.24 313.85H271.28V318.88H261.24zM286.34 313.85H296.38V318.88H286.34zM266.26 318.88H291.36V323.92H266.26zM266.26 323.92H291.36V328.95H266.26z"/>
<path fill="#bf0000" d="M271.28 293.71H286.34V298.75H271.28zM271.28 298.75H276.3V303.78H271.28zM281.32 298.75H286.34V303.78H281.32zM266.26 303.78H271.28V308.81H266.26zM286.34 303.78H291.36V308.81H286.34zM266.26 308.81H271.28V313.85H266.26zM286.34 308.81H291.36V313.85H286.34zM271.28 313.85H276.3V318.88H271.28zM281.32 313.85H286.34V318.88H281.32z"/>
<path fill="#ff8000" d="M256.22 298.75H261.24V303.78H256.22zM296.38 298.75H301.4V303.78H296.38zM256.22 318.88H261.24V323.92H256.22zM296.38 318.88H301.4V323.92H296.38zM256.22 323.92H261.24V328.95H256.22zM296.38 323.92H301.4V328.95H296.38zM271.28 328.95H286.34V333.99H271.28z"/>
<path fill="#800000" d="M276.3 298.75H281.32V303.78H276.3zM271.28 303.78H286.34V308.81H271.28zM271.28 308.81H286.34V313.85H271.28zM276.3 313.85H281.32V318.88H276.3z"/>
<path d="M226.1 263.5V364.2M231.12 263.5V364.2M236.14 263.5V364.2M241.16 263.5V364.2M246.18 263.5V364.2M251.2 263.5V364.2M256.22 263.5V364.2M261.24 263.5V364.2M266.26 263.5V364.2M271.28 263.5V364.2M276.3 263.5V364.2M281.32 263.5V364.2M286.34 263.5V364.2M291.36 263.5V364.2M296.38 263.5V364.2M301.4 263.5V364.2M306.42 263.5V364.2M311.44 263.5V364.2M316.46 263.5V364.2M321.48 263.5V364.2M326.5 263.5V364.2M226.1 263.5H326.5M226.1 268.54H326.5M226.1 273.57H326.5M226.1 278.61H326.5M226.1 283.64H326.5M226.1 288.68H326.5M226.1 293.71H326.5M226.1 298.75H326.5M226.1 303.78H326.5M226.1 308.81H326.5M226.1 313.85H326.5M226.1 318.88H326.5M226.1 323.92H326.5M226.1 328.95H326.5M226.1 333.99H326.5M226.1 339.02H326.5M226.1 344.06H326.5M226.1 349.09H326.5M226.1 354.13H326.5M226.1 359.16H326.5M226.1 364.2H326.5" stroke="#000" stroke-opacity="0.42" stroke-width="0.95" fill="none"/></g>
<path d="M211.9 263.5V364.2H339.6" stroke="#8a8a8a" stroke-width="0.9" fill="none"/>
<text x="221.29" y="372.6" text-anchor="middle" font-size="6.3">5</text>
<text x="242.78" y="372.6" text-anchor="middle" font-size="6.3">10</text>
<text x="264.27" y="372.6" text-anchor="middle" font-size="6.3">15</text>
<text x="285.76" y="372.6" text-anchor="middle" font-size="6.3">20</text>
<text x="307.25" y="372.6" text-anchor="middle" font-size="6.3">25</text>
<text x="328.73" y="372.6" text-anchor="middle" font-size="6.3">30</text>
<text x="210.6" y="268.44" text-anchor="end" font-size="6.3">15</text>
<text x="210.6" y="289.99" text-anchor="end" font-size="6.3">10</text>
<text x="210.6" y="311.55" text-anchor="end" font-size="6.3">5</text>
<text x="210.6" y="333.1" text-anchor="end" font-size="6.3">0</text>
<text x="210.6" y="354.65" text-anchor="end" font-size="6.3">−5</text>
<path d="M221.29 364.2v-1.5M242.78 364.2v-1.5M264.27 364.2v-1.5M285.76 364.2v-1.5M307.25 364.2v-1.5M328.73 364.2v-1.5M211.9 265.14h1.5M211.9 286.69h1.5M211.9 308.25h1.5M211.9 329.8h1.5M211.9 351.35h1.5" stroke="#8a8a8a" stroke-width="0.6" fill="none"/>
<text x="276.3" y="378.5" text-anchor="middle" font-size="6.3">X, mm</text>
<text transform="translate(202.9 313.85) rotate(-90)" text-anchor="middle" font-size="6.3">Y, mm</text>
<rect x="347.7" y="262.8" width="9.1" height="101.8" fill="url(#jet)"/>
<text x="352.25" y="261.2" text-anchor="middle" font-size="6.3">DE</text>
<text x="357.4" y="267" font-size="6.3">90%</text>
<text x="357.4" y="317.15" font-size="6.3">45%</text>
<text x="357.4" y="367.3" font-size="6.3">0%</text>
<path d="M356.8 364.6h-1.2M356.8 353.46h-1.2M356.8 342.31h-1.2M356.8 331.17h-1.2M356.8 320.02h-1.2M356.8 308.88h-1.2M356.8 297.73h-1.2M356.8 286.59h-1.2M356.8 275.44h-1.2M356.8 264.3h-1.2" stroke="#333" stroke-width="0.5" fill="none"/>
<g><rect x="403.3" y="264.3" width="100.4" height="100.7" fill="#00006a"/>
<path fill="#0000ad" d="M403.3 264.3H433.42V269.34H403.3zM478.6 264.3H503.7V269.34H478.6zM403.3 269.34H423.38V274.37H403.3zM488.64 269.34H503.7V274.37H488.64zM403.3 274.37H418.36V279.41H403.3zM493.66 274.37H503.7V279.41H493.66zM403.3 279.41H413.34V284.44H403.3zM498.68 279.41H503.7V284.44H498.68zM403.3 284.44H408.32V289.48H403.3zM498.68 284.44H503.7V289.48H498.68zM403.3 289.48H408.32V294.51H403.3zM403.3 294.51H408.32V299.55H403.3zM403.3 299.55H408.32V304.58H403.3zM403.3 319.69H408.32V324.72H403.3zM403.3 324.72H408.32V329.75H403.3zM403.3 329.75H408.32V334.79H403.3zM403.3 334.79H413.34V339.82H403.3zM498.68 334.79H503.7V339.82H498.68zM403.3 339.82H413.34V344.86H403.3zM498.68 339.82H503.7V344.86H498.68zM403.3 344.86H418.36V349.89H403.3zM493.66 344.86H503.7V349.89H493.66zM403.3 349.89H423.38V354.93H403.3zM488.64 349.89H503.7V354.93H488.64zM403.3 354.93H433.42V359.97H403.3zM478.6 354.93H503.7V359.97H478.6zM403.3 359.97H453.5V365H403.3zM458.52 359.97H503.7V365H458.52z"/>
<path fill="#0000c4" d="M433.42 264.3H443.46V269.34H433.42zM468.56 264.3H478.6V269.34H468.56zM423.38 269.34H433.42V274.37H423.38zM478.6 269.34H488.64V274.37H478.6zM418.36 274.37H428.4V279.41H418.36zM483.62 274.37H493.66V279.41H483.62zM413.34 279.41H418.36V284.44H413.34zM488.64 279.41H498.68V284.44H488.64zM408.32 284.44H413.34V289.48H408.32zM493.66 284.44H498.68V289.48H493.66zM498.68 289.48H503.7V294.51H498.68z"/>
<path fill="#0000f0" d="M443.46 264.3H448.48V269.34H443.46zM463.54 264.3H468.56V269.34H463.54zM433.42 269.34H438.44V274.37H433.42zM473.58 269.34H478.6V274.37H473.58zM428.4 274.37H433.42V279.41H428.4zM478.6 274.37H483.62V279.41H478.6zM418.36 279.41H428.4V284.44H418.36zM483.62 279.41H488.64V284.44H483.62zM413.34 284.44H423.38V289.48H413.34zM488.64 284.44H493.66V289.48H488.64zM408.32 289.48H413.34V294.51H408.32zM493.66 289.48H498.68V294.51H493.66zM498.68 294.51H503.7V299.55H498.68z"/>
<path fill="#0080ff" d="M448.48 264.3H453.5V269.34H448.48zM458.52 264.3H463.54V269.34H458.52zM443.46 269.34H448.48V274.37H443.46zM463.54 269.34H468.56V274.37H463.54zM438.44 274.37H443.46V279.41H438.44zM468.56 274.37H473.58V279.41H468.56zM433.42 279.41H438.44V284.44H433.42zM473.58 279.41H478.6V284.44H473.58zM428.4 284.44H433.42V289.48H428.4zM478.6 284.44H483.62V289.48H478.6zM418.36 289.48H423.38V294.51H418.36zM483.62 289.48H488.64V294.51H483.62zM413.34 294.51H418.36V299.55H413.34zM488.64 294.51H493.66V299.55H488.64zM408.32 299.55H413.34V304.58H408.32zM493.66 299.55H498.68V304.58H493.66zM498.68 304.58H503.7V309.62H498.68zM403.3 309.62H408.32V314.65H403.3z"/>
<path fill="#00bfff" d="M453.5 264.3H458.52V269.34H453.5zM448.48 269.34H453.5V274.37H448.48zM458.52 269.34H463.54V274.37H458.52zM443.46 274.37H448.48V279.41H443.46zM463.54 274.37H468.56V279.41H463.54zM438.44 279.41H443.46V284.44H438.44zM468.56 279.41H473.58V284.44H468.56zM433.42 284.44H438.44V289.48H433.42zM473.58 284.44H478.6V289.48H473.58zM423.38 289.48H428.4V294.51H423.38zM478.6 289.48H483.62V294.51H478.6zM418.36 294.51H423.38V299.55H418.36zM483.62 294.51H488.64V299.55H483.62zM413.34 299.55H418.36V304.58H413.34zM488.64 299.55H493.66V304.58H488.64zM408.32 304.58H413.34V309.62H408.32zM493.66 304.58H498.68V309.62H493.66zM408.32 309.62H413.34V314.65H408.32zM498.68 309.62H503.7V314.65H498.68zM403.3 314.65H408.32V319.69H403.3z"/>
<path fill="#0033ff" d="M438.44 269.34H443.46V274.37H438.44zM468.56 269.34H473.58V274.37H468.56zM433.42 274.37H438.44V279.41H433.42zM473.58 274.37H478.6V279.41H473.58zM428.4 279.41H433.42V284.44H428.4zM478.6 279.41H483.62V284.44H478.6zM423.38 284.44H428.4V289.48H423.38zM483.62 284.44H488.64V289.48H483.62zM413.34 289.48H418.36V294.51H413.34zM488.64 289.48H493.66V294.51H488.64zM408.32 294.51H413.34V299.55H408.32zM493.66 294.51H498.68V299.55H493.66zM498.68 299.55H503.7V304.58H498.68zM403.3 304.58H408.32V309.62H403.3z"/>
<path fill="#00ffff" d="M453.5 269.34H458.52V274.37H453.5zM448.48 274.37H453.5V279.41H448.48zM458.52 274.37H463.54V279.41H458.52zM443.46 279.41H448.48V284.44H443.46zM463.54 279.41H468.56V284.44H463.54zM438.44 284.44H443.46V289.48H438.44zM468.56 284.44H473.58V289.48H468.56zM428.4 289.48H433.42V294.51H428.4zM473.58 289.48H478.6V294.51H473.58zM423.38 294.51H428.4V299.55H423.38zM478.6 294.51H483.62V299.55H478.6zM418.36 299.55H423.38V304.58H418.36zM483.62 299.55H488.64V304.58H483.62zM413.34 304.58H418.36V309.62H413.34zM488.64 304.58H493.66V309.62H488.64zM413.34 309.62H418.36V314.65H413.34zM493.66 309.62H498.68V314.65H493.66zM408.32 314.65H413.34V319.69H408.32zM498.68 314.65H503.7V319.69H498.68zM408.32 319.69H413.34V324.72H408.32zM498.68 319.69H503.7V324.72H498.68zM408.32 324.72H413.34V329.75H408.32z"/>
<path fill="#40ffbf" d="M453.5 274.37H458.52V279.41H453.5zM448.48 279.41H453.5V284.44H448.48zM458.52 279.41H463.54V284.44H458.52zM443.46 284.44H448.48V289.48H443.46zM463.54 284.44H468.56V289.48H463.54zM433.42 289.48H438.44V294.51H433.42zM428.4 294.51H433.42V299.55H428.4zM473.58 294.51H478.6V299.55H473.58zM423.38 299.55H428.4V304.58H423.38zM478.6 299.55H483.62V304.58H478.6zM418.36 304.58H423.38V309.62H418.36zM483.62 304.58H488.64V309.62H483.62zM418.36 309.62H423.38V314.65H418.36zM413.34 314.65H418.36V319.69H413.34zM493.66 314.65H498.68V319.69H493.66zM413.34 319.69H418.36V324.72H413.34zM498.68 324.72H503.7V329.75H498.68zM408.32 329.75H413.34V334.79H408.32z"/>
<path fill="#80ff80" d="M453.5 279.41H458.52V284.44H453.5zM438.44 289.48H443.46V294.51H438.44zM468.56 289.48H473.58V294.51H468.56zM433.42 294.51H438.44V299.55H433.42zM428.4 299.55H433.42V304.58H428.4zM473.58 299.55H478.6V304.58H473.58zM423.38 304.58H428.4V309.62H423.38zM478.6 304.58H483.62V309.62H478.6zM488.64 309.62H493.66V314.65H488.64zM418.36 314.65H423.38V319.69H418.36zM488.64 314.65H493.66V319.69H488.64zM418.36 319.69H423.38V324.72H418.36zM493.66 319.69H498.68V324.72H493.66zM413.34 324.72H418.36V329.75H413.34zM493.66 324.72H498.68V329.75H493.66zM413.34 329.75H418.36V334.79H413.34zM498.68 329.75H503.7V334.79H498.68z"/>
<path fill="#bfff40" d="M448.48 284.44H453.5V289.48H448.48zM458.52 284.44H463.54V289.48H458.52zM443.46 289.48H448.48V294.51H443.46zM463.54 289.48H468.56V294.51H463.54zM438.44 294.51H443.46V299.55H438.44zM468.56 294.51H473.58V299.55H468.56zM433.42 299.55H438.44V304.58H433.42zM428.4 304.58H433.42V309.62H428.4zM473.58 304.58H478.6V309.62H473.58zM423.38 309.62H428.4V314.65H423.38zM483.62 309.62H488.64V314.65H483.62zM488.64 319.69H493.66V324.72H488.64zM418.36 324.72H423.38V329.75H418.36zM418.36 329.75H423.38V334.79H418.36zM493.66 329.75H498.68V334.79H493.66zM413.34 334.79H418.36V339.82H413.34zM493.66 334.79H498.68V339.82H493.66zM413.34 339.82H418.36V344.86H413.34zM493.66 339.82H498.68V344.86H493.66z"/>
<path fill="#ffff00" d="M453.5 284.44H458.52V289.48H453.5zM448.48 289.48H463.54V294.51H448.48zM443.46 294.51H448.48V299.55H443.46zM463.54 294.51H468.56V299.55H463.54zM438.44 299.55H443.46V304.58H438.44zM468.56 299.55H473.58V304.58H468.56zM433.42 304.58H438.44V309.62H433.42zM428.4 309.62H433.42V314.65H428.4zM423.38 314.65H428.4V319.69H423.38zM483.62 314.65H488.64V319.69H483.62zM423.38 319.69H428.4V324.72H423.38zM483.62 319.69H488.64V324.72H483.62zM423.38 324.72H428.4V329.75H423.38zM488.64 324.72H493.66V329.75H488.64zM488.64 329.75H493.66V334.79H488.64zM418.36 334.79H423.38V339.82H418.36zM488.64 334.79H493.66V339.82H488.64zM418.36 339.82H423.38V344.86H418.36z"/>
<path fill="#ffbf00" d="M448.48 294.51H463.54V299.55H448.48zM443.46 299.55H448.48V304.58H443.46zM463.54 299.55H468.56V304.58H463.54zM438.44 304.58H443.46V309.62H438.44zM468.56 304.58H473.58V309.62H468.56zM433.42 309.62H438.44V314.65H433.42zM478.6 309.62H483.62V314.65H478.6zM428.4 314.65H433.42V319.69H428.4zM478.6 314.65H483.62V319.69H478.6zM428.4 319.69H433.42V324.72H428.4zM478.6 319.69H483.62V324.72H478.6zM483.62 324.72H488.64V329.75H483.62zM423.38 329.75H428.4V334.79H423.38zM483.62 329.75H488.64V334.79H483.62zM423.38 334.79H428.4V339.82H423.38zM483.62 334.79H488.64V339.82H483.62zM423.38 339.82H428.4V344.86H423.38zM488.64 339.82H493.66V344.86H488.64zM418.36 344.86H423.38V349.89H418.36zM488.64 344.86H493.66V349.89H488.64z"/>
<path fill="#ff8000" d="M448.48 299.55H463.54V304.58H448.48zM443.46 304.58H448.48V309.62H443.46zM463.54 304.58H468.56V309.62H463.54zM438.44 309.62H443.46V314.65H438.44zM473.58 309.62H478.6V314.65H473.58zM433.42 314.65H438.44V319.69H433.42zM473.58 314.65H478.6V319.69H473.58zM433.42 319.69H438.44V324.72H433.42zM473.58 319.69H478.6V324.72H473.58zM428.4 324.72H433.42V329.75H428.4zM478.6 324.72H483.62V329.75H478.6zM428.4 329.75H433.42V334.79H428.4zM478.6 329.75H483.62V334.79H478.6zM428.4 334.79H433.42V339.82H428.4zM478.6 334.79H483.62V339.82H478.6zM483.62 339.82H488.64V344.86H483.62zM423.38 344.86H428.4V349.89H423.38zM483.62 344.86H488.64V349.89H483.62zM423.38 349.89H428.4V354.93H423.38zM483.62 349.89H488.64V354.93H483.62z"/>
<path fill="#ff4000" d="M448.48 304.58H463.54V309.62H448.48zM443.46 309.62H448.48V314.65H443.46zM468.56 309.62H473.58V314.65H468.56zM438.44 314.65H443.46V319.69H438.44zM468.56 314.65H473.58V319.69H468.56zM438.44 319.69H443.46V324.72H438.44zM468.56 319.69H473.58V324.72H468.56zM433.42 324.72H438.44V329.75H433.42zM473.58 324.72H478.6V329.75H473.58zM433.42 329.75H438.44V334.79H433.42zM473.58 329.75H478.6V334.79H473.58zM428.4 339.82H433.42V344.86H428.4zM478.6 339.82H483.62V344.86H478.6zM428.4 344.86H433.42V349.89H428.4zM478.6 344.86H483.62V349.89H478.6zM428.4 349.89H433.42V354.93H428.4zM478.6 349.89H483.62V354.93H478.6z"/>
<path fill="#ff0000" d="M448.48 309.62H468.56V314.65H448.48zM443.46 314.65H468.56V319.69H443.46zM443.46 319.69H448.48V324.72H443.46zM458.52 319.69H468.56V324.72H458.52zM438.44 324.72H443.46V329.75H438.44zM463.54 324.72H473.58V329.75H463.54zM438.44 329.75H443.46V334.79H438.44zM433.42 334.79H438.44V339.82H433.42zM473.58 334.79H478.6V339.82H473.58zM433.42 339.82H438.44V344.86H433.42zM473.58 339.82H478.6V344.86H473.58zM433.42 344.86H438.44V349.89H433.42zM473.58 344.86H478.6V349.89H473.58zM433.42 349.89H443.46V354.93H433.42zM468.56 349.89H478.6V354.93H468.56zM433.42 354.93H478.6V359.97H433.42zM453.5 359.97H458.52V365H453.5z"/>
<path fill="#bf0000" d="M448.48 319.69H458.52V324.72H448.48zM443.46 324.72H453.5V329.75H443.46zM458.52 324.72H463.54V329.75H458.52zM443.46 329.75H448.48V334.79H443.46zM463.54 329.75H473.58V334.79H463.54zM438.44 334.79H448.48V339.82H438.44zM468.56 334.79H473.58V339.82H468.56zM438.44 339.82H448.48V344.86H438.44zM463.54 339.82H473.58V344.86H463.54zM438.44 344.86H443.46V349.89H438.44zM458.52 344.86H473.58V349.89H458.52zM443.46 349.89H468.56V354.93H443.46z"/>
<path fill="#800000" d="M453.5 324.72H458.52V329.75H453.5zM448.48 329.75H463.54V334.79H448.48zM448.48 334.79H468.56V339.82H448.48zM448.48 339.82H463.54V344.86H448.48zM443.46 344.86H458.52V349.89H443.46z"/>
<path d="M403.3 264.3V365M408.32 264.3V365M413.34 264.3V365M418.36 264.3V365M423.38 264.3V365M428.4 264.3V365M433.42 264.3V365M438.44 264.3V365M443.46 264.3V365M448.48 264.3V365M453.5 264.3V365M458.52 264.3V365M463.54 264.3V365M468.56 264.3V365M473.58 264.3V365M478.6 264.3V365M483.62 264.3V365M488.64 264.3V365M493.66 264.3V365M498.68 264.3V365M503.7 264.3V365M403.3 264.3H503.7M403.3 269.34H503.7M403.3 274.37H503.7M403.3 279.41H503.7M403.3 284.44H503.7M403.3 289.48H503.7M403.3 294.51H503.7M403.3 299.55H503.7M403.3 304.58H503.7M403.3 309.62H503.7M403.3 314.65H503.7M403.3 319.69H503.7M403.3 324.72H503.7M403.3 329.75H503.7M403.3 334.79H503.7M403.3 339.82H503.7M403.3 344.86H503.7M403.3 349.89H503.7M403.3 354.93H503.7M403.3 359.97H503.7M403.3 365H503.7" stroke="#000" stroke-opacity="0.42" stroke-width="0.95" fill="none"/></g>
<path d="M389.4 264.3V365H517.3" stroke="#8a8a8a" stroke-width="0.9" fill="none"/>
<text x="398.49" y="373.4" text-anchor="middle" font-size="6.3">5</text>
<text x="419.98" y="373.4" text-anchor="middle" font-size="6.3">10</text>
<text x="441.47" y="373.4" text-anchor="middle" font-size="6.3">15</text>
<text x="462.96" y="373.4" text-anchor="middle" font-size="6.3">20</text>
<text x="484.45" y="373.4" text-anchor="middle" font-size="6.3">25</text>
<text x="505.93" y="373.4" text-anchor="middle" font-size="6.3">30</text>
<text x="388.1" y="269.24" text-anchor="end" font-size="6.3">15</text>
<text x="388.1" y="290.79" text-anchor="end" font-size="6.3">10</text>
<text x="388.1" y="312.35" text-anchor="end" font-size="6.3">5</text>
<text x="388.1" y="333.9" text-anchor="end" font-size="6.3">0</text>
<text x="388.1" y="355.45" text-anchor="end" font-size="6.3">−5</text>
<path d="M398.49 365v-1.5M419.98 365v-1.5M441.47 365v-1.5M462.96 365v-1.5M484.45 365v-1.5M505.93 365v-1.5M389.4 265.94h1.5M389.4 287.49h1.5M389.4 309.05h1.5M389.4 330.6h1.5M389.4 352.15h1.5" stroke="#8a8a8a" stroke-width="0.6" fill="none"/>
<text x="453.5" y="379.3" text-anchor="middle" font-size="6.3">X, mm</text>
<text transform="translate(380.4 314.65) rotate(-90)" text-anchor="middle" font-size="6.3">Y, mm</text>
<rect x="524.5" y="263.7" width="9.2" height="101.8" fill="url(#jet)"/>
<text x="529.1" y="262.1" text-anchor="middle" font-size="6.3">DE</text>
<text x="534.3" y="268.5" font-size="6.3">90%</text>
<text x="534.3" y="318.35" font-size="6.3">45%</text>
<text x="534.3" y="368.2" font-size="6.3">0%</text>
<path d="M533.7 365.5h-1.2M533.7 354.42h-1.2M533.7 343.34h-1.2M533.7 332.27h-1.2M533.7 321.19h-1.2M533.7 310.11h-1.2M533.7 299.03h-1.2M533.7 287.96h-1.2M533.7 276.88h-1.2M533.7 265.8h-1.2" stroke="#333" stroke-width="0.5" fill="none"/>
<text transform="translate(14.3 64) rotate(-90)" text-anchor="middle" font-size="12" stroke="#111" stroke-width="0.35" textLength="63.5" lengthAdjust="spacingAndGlyphs">−17.8',−3.7'</text>
<text transform="translate(17.8 185.8) rotate(-90)" text-anchor="middle" font-size="12" stroke="#111" stroke-width="0.35" textLength="25.5" lengthAdjust="spacingAndGlyphs">0', 0'</text>
<text transform="translate(14.1 318) rotate(-90)" text-anchor="middle" font-size="12" stroke="#111" stroke-width="0.35" textLength="57.5" lengthAdjust="spacingAndGlyphs">17.8', 3.7'</text>
<text x="98.7" y="390" text-anchor="middle" font-size="12.3" textLength="42.3" lengthAdjust="spacingAndGlyphs">450 nm</text>
<text x="275.6" y="389.6" text-anchor="middle" font-size="12.3" textLength="41.6" lengthAdjust="spacingAndGlyphs">700 nm</text>
<text x="451.8" y="391" text-anchor="middle" font-size="12.3" textLength="41.8" lengthAdjust="spacingAndGlyphs">950 nm</text>
</svg>
</body></html>
